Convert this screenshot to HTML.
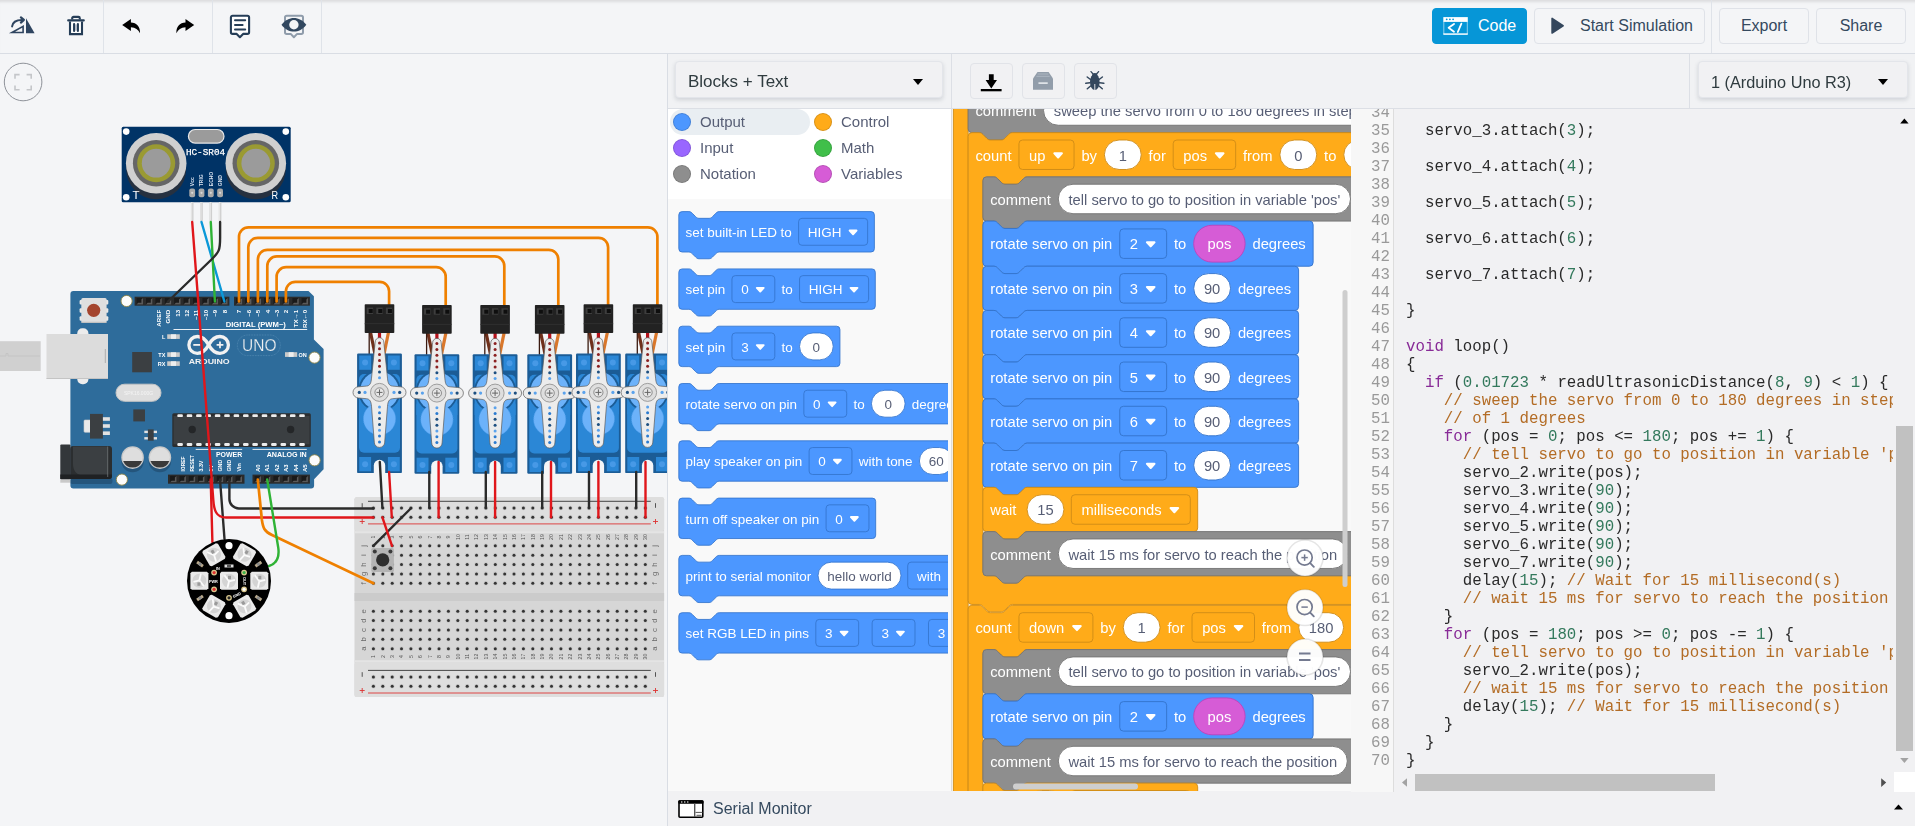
<!DOCTYPE html>
<html>
<head>
<meta charset="utf-8">
<title>Circuit design - Tinkercad</title>
<style>
*{box-sizing:border-box;margin:0;padding:0}
html,body{width:1915px;height:826px;overflow:hidden;background:#f4f5f7;font-family:"Liberation Sans",sans-serif;color:#34495e}
.abs{position:absolute}
#toolbar{position:absolute;left:0;top:0;width:1915px;height:54px;background:#f4f5f7;border-bottom:1px solid #d9dde4;box-shadow:inset 0 4px 3px -2px rgba(0,0,0,.10)}
.vdiv{position:absolute;top:0;width:1px;height:53px;background:#dfe3e9}
.tbtn{position:absolute;top:8px;height:36px;border:1px solid #dfe2e8;border-radius:4px;font-size:16px;line-height:34px;text-align:center;color:#34495e;background:#f4f5f7}
#canvas{will-change:transform;position:absolute;left:0;top:54px;width:667px;height:772px;background:#f4f5f7;overflow:hidden}
#panel{will-change:transform;position:absolute;left:667px;top:54px;width:1248px;height:772px;background:#f1f1f3;border-left:1px solid #d9dde4}
#phead{position:absolute;left:0;top:0;width:1247px;height:55px;border-bottom:1px solid #dcdfe5;background:#f1f2f4}
.dd{position:absolute;top:7px;height:37px;border:1px solid #e3e5ea;border-radius:4px;background:#f1f1f3;box-shadow:0 2px 4px rgba(60,70,90,.18);font-size:17px;line-height:40px;color:#2f3b3f;padding-left:12px}
.dd:after{content:"";position:absolute;right:19px;top:17px;border:5px solid transparent;border-top:6px solid #000;border-bottom:0}
.ibtn{position:absolute;top:9px;width:43px;height:36px;border:1px solid #e1e3e8;border-radius:4px;background:#f1f1f3}
#palette{position:absolute;left:0;top:55px;width:283px;height:682px;background:#f9f9f9;overflow:hidden}
#cats{position:absolute;left:0;top:0;width:283px;height:90px;background:#fff}
.cat{position:absolute;font-size:15px;color:#575e75;line-height:18px}
.cat i{position:absolute;left:0;top:0;width:18px;height:18px;border-radius:50%;border:1px solid rgba(0,0,0,.15)}
.cat span{position:absolute;left:27px;top:0;white-space:nowrap}
#ws{position:absolute;left:284px;top:55px;width:399px;height:682px;background:#f9f9f9;overflow:hidden}
#wsb{position:absolute;left:283px;top:55px;width:1px;height:682px;background:#ddd}
#editor{position:absolute;left:683px;top:55px;width:564px;height:683px;background:#f1f1f3;overflow:hidden}
#serial{position:absolute;left:0;top:738px;width:1247px;height:35px;background:#f1f1f3;border-top:1px solid #f1f1f3;font-size:16px;color:#34495e;line-height:32px}
.bsvg text{font-family:"Liberation Sans",sans-serif;font-size:16px}
#gut{position:absolute;left:0;top:0;width:43px;height:683px;background:#f7f7f7;border-right:1px solid #ddd}
.ln{position:absolute;left:0;width:542px;height:18px;overflow:hidden;font-family:"Liberation Mono",monospace;font-size:15.77px;line-height:18px;color:#2a2a2a;white-space:pre}
.ln s{position:absolute;left:0;width:39px;text-align:right;color:#999;text-decoration:none}
.ln pre{position:absolute;left:55px;top:0;font:inherit}
.ln b{font-weight:normal;color:#882b97}.ln i{font-style:normal;color:#33795c}.ln u{text-decoration:none;color:#b36c25}
</style>
</head>
<body>
<div id="toolbar">
  <div class="vdiv" style="left:103px"></div>
  <div class="vdiv" style="left:212px"></div>
  <div class="vdiv" style="left:321px"></div>
  <div class="vdiv" style="left:1711px"></div>
  <div class="tbtn" style="left:1432px;width:95px;background:#0696d7;border-color:#0696d7;color:#fff;text-align:left;padding-left:45px">Code</div>
  <div class="tbtn" style="left:1534px;width:171px;text-align:left;padding-left:45px">Start Simulation</div>
  <div class="tbtn" style="left:1719px;width:90px">Export</div>
  <div class="tbtn" style="left:1816px;width:90px">Share</div>
  <svg style="position:absolute;left:0;top:0" width="330" height="53" viewBox="0 0 330 53">
<g fill="none" stroke="#2f4560" stroke-linecap="round" stroke-linejoin="round">
<path d="M12.1 26.4C12.6 22.2 16 19.9 22 19.9" stroke-width="2"/>
<path d="M20.9 17.4L23.9 19.9L20.9 22.6" stroke-width="2.2"/>
<path d="M23.1 26.4V32.5H12Z" stroke-width="1.6" stroke-linejoin="miter" stroke-miterlimit="10"/>
</g>
<path d="M26 18.2V33.3H34.6Z" fill="#2f4560"/>
<rect x="70" y="21" width="12" height="13" fill="#fff"/>
<g fill="none" stroke="#253d57" stroke-width="2.1">
<path d="M68.2 20.4H83.8" stroke-linecap="round"/>
<path d="M72.2 19.6V18.3a1.4 1.4 0 0 1 1.4-1.4h4.8a1.4 1.4 0 0 1 1.4 1.4V19.6"/>
<path d="M70 21.5V34.1H82V21.5"/>
<path d="M74.1 24V31M77.9 24V31" stroke-linecap="round"/>
</g>
<path d="M75.1 24.5h1.8v6h-1.8z" fill="#aeb6c2"/>
<path d="M122.2 24.9L130.9 19V22.5C136.6 22.7 140.4 26.5 140 33.2C138.2 29.4 135.5 27.4 130.9 27.2V30.9Z" fill="#000"/>
<path d="M194.2 24.9L185.5 19V22.5C179.8 22.7 176 26.5 176.4 33.2C178.2 29.4 180.9 27.4 185.5 27.2V30.9Z" fill="#000"/>
<path d="M232.6 15.8h14.8a1.7 1.7 0 0 1 1.7 1.7v14.7a1.7 1.7 0 0 1-1.7 1.7h-4.3l-3.2 3.3l-3.2-3.3h-4.1a1.7 1.7 0 0 1-1.7-1.7V17.5a1.7 1.7 0 0 1 1.7-1.7z" fill="#fff" stroke="#253d57" stroke-width="2.1" stroke-linejoin="round"/>
<path d="M235 20.3h10.2M235 24.9h7.6M235 29.4h10.2" stroke="#253d57" stroke-width="2" stroke-linecap="round"/>
<path d="M286.7 15.8h14.6a1.7 1.7 0 0 1 1.7 1.7v14.7a1.7 1.7 0 0 1-1.7 1.7h-4.2l-3.2 3.3l-3.2-3.3h-4a1.7 1.7 0 0 1-1.7-1.7V17.5a1.7 1.7 0 0 1 1.7-1.7z" fill="none" stroke="#8f9cab" stroke-width="2" stroke-linejoin="round"/>
<path d="M281.5 24.7C285 20 289.5 17.9 293.9 17.9S302.8 20 306.3 24.7C302.8 29.4 298.3 31.5 293.9 31.5S285 29.4 281.5 24.7Z" fill="#31475f"/>
<circle cx="293.9" cy="24.7" r="4.7" fill="#f4f5f7"/>
</svg>
<svg style="position:absolute;left:1432px;top:8px" width="280" height="36" viewBox="1432 8 280 36">
<path d="M1443.3 17.1h24.5v4.8h-24.5z" fill="#fff"/>
<path d="M1443.8 21.5V34.1H1467.3V21.5" fill="none" stroke="#fff" stroke-opacity=".55" stroke-width="1"/>
<path d="M1443.3 34.1H1467.8" stroke="#fff" stroke-width="1.3"/>
<circle cx="1446.7" cy="19.3" r=".9" fill="#0696d7"/><circle cx="1449.9" cy="19.3" r=".9" fill="#0696d7"/><circle cx="1453.1" cy="19.3" r=".9" fill="#0696d7"/>
<path d="M1454 23.9L1448.6 27.8L1454 31.8M1461.4 23.6L1457.8 32" fill="none" stroke="#fff" stroke-width="1.8" stroke-linecap="round" stroke-linejoin="round"/>
<path d="M1551.3 18.4a.8.8 0 0 1 1.2-.7l11 7.3a.8.8 0 0 1 0 1.4l-11 7.3a.8.8 0 0 1-1.2-.7z" fill="#34475d"/>
</svg>

</div>
<div id="canvas">
<svg style="position:absolute;left:0;top:0" width="667" height="772" viewBox="0 54 667 772" font-family="Liberation Sans, sans-serif">
<circle cx="23.1" cy="82" r="18.8" fill="#f4f5f7" stroke="#8e9299" stroke-width="1"/>
<path d="M15 78.8V74.6H19.6M26.6 74.6H31.2V78.8M31.2 85.6V89.8H26.6M19.6 89.8H15V85.6" fill="none" stroke="#c4c6c9" stroke-width="1.6"/>
<defs>
<g id="ph"><rect x="-3.2" y="-3.2" width="6.4" height="6.4" fill="#1a1a1a"/><path d="M-3.2 3.2H3.2V-3.2L1.6 -1.6V1.6H-1.6Z" fill="#5a5a5a"/></g>
<g id="bh"><circle r="2.3" fill="#c8c8c8"/><circle r="1.5" fill="#333"/></g>
<g id="servo">
<path d="M-9 28L-4.5 50" stroke="#6e2f1a" stroke-width="3.2" fill="none"/>
<path d="M-10.3 28V50" stroke="#3a1a10" stroke-width="1.3" fill="none"/>
<path d="M0 28V48" stroke="#b5121b" stroke-width="3.2" fill="none"/>
<path d="M9 28L4.5 50" stroke="#d9772b" stroke-width="3.2" fill="none"/>
<rect x="-22.4" y="49.4" width="44.8" height="119.5" rx="1.2" fill="#1b5c96"/>
<rect x="-20.3" y="51.3" width="11.9" height="14.3" fill="#2b87d6"/>
<circle cx="-14.4" cy="58.3" r="3" fill="#4799e6"/>
<rect x="-20.3" y="152.8" width="11.9" height="14.3" fill="#2b87d6"/>
<circle cx="-14.4" cy="160" r="3" fill="#4799e6"/>
<rect x="8.4" y="51.3" width="11.9" height="14.3" fill="#2b87d6"/>
<circle cx="14.4" cy="58.3" r="3" fill="#4799e6"/>
<rect x="8.4" y="152.8" width="11.9" height="14.3" fill="#2b87d6"/>
<circle cx="14.4" cy="160" r="3" fill="#4799e6"/>
<rect x="-20.5" y="69.8" width="41" height="78.8" rx="5" fill="#2b87d6"/>
<circle cx="0" cy="86.6" r="21.2" fill="#1b5c96"/>
<rect x="-20.5" y="76" width="41" height="60" fill="none"/>
<circle cx="0" cy="86.6" r="19.3" fill="#6cb2fa"/>
<path d="M-20.5 98V110H20.5V98A21.2 21.2 0 0 1 -20.5 98Z" fill="#2b87d6"/>
<circle cx="0" cy="114.6" r="16.1" fill="#6cb2fa" stroke="#4f9fee" stroke-width=".8" stroke-dasharray="1 1"/>
<path d="M-5.7 169.5V161.3a5.7 5.7 0 0 1 11.4 0V169.5Z" fill="#f4f5f7"/>
<path d="M-4.3 37.8a4.3 4.3 0 0 1 8.6 0L8 74C8.4 79 9.5 81.5 13 81.9L20.9 82.6a5.6 5.6 0 0 1 0 11.2L13 94.5C9.5 94.9 8.4 97.4 8 102L5.2 138a5.2 5.2 0 0 1-10.4 0L-8 102C-8.4 97.4-9.5 94.9-13 94.5L-20.9 93.8a5.6 5.6 0 0 1 0-11.2L-13 81.9C-9.5 81.5-8.4 79-8 74Z" fill="#ececec" stroke="#5a5a5a" stroke-width=".7"/>
<circle cx="0" cy="88.2" r="9" fill="#dedede" stroke="#8a8a8a" stroke-width=".8"/>
<circle cx="0" cy="88.2" r="4.6" fill="#e6e6e6" stroke="#777" stroke-width=".8"/>
<path d="M-3 88.2H3M0 85.2V91.2" stroke="#666" stroke-width="1"/>
<circle cx="0" cy="38.7" r="1.5" fill="#8b2020"/>
<circle cx="0" cy="44.5" r="1.5" fill="#8b2020"/>
<circle cx="0" cy="50.3" r="1.5" fill="#8b2020"/>
<circle cx="0" cy="56.2" r="1.5" fill="#8b2020"/>
<circle cx="0" cy="62" r="1.5" fill="#8b2020"/>
<circle cx="0" cy="67.8" r="1.5" fill="#1d4f80"/>
<circle cx="0" cy="73.6" r="1.5" fill="#5aa2ec"/>
<circle cx="0" cy="102.8" r="1.5" fill="#5aa2ec"/>
<circle cx="0" cy="108.6" r="1.5" fill="#2b7bd0"/>
<circle cx="0" cy="114.4" r="1.5" fill="#1d4f80"/>
<circle cx="0" cy="120.3" r="1.5" fill="#1d4f80"/>
<circle cx="0" cy="126.1" r="1.5" fill="#5aa2ec"/>
<circle cx="0" cy="131.9" r="1.5" fill="#2b7bd0"/>
<circle cx="0" cy="137.7" r="1.5" fill="#2b7bd0"/>
<circle cx="-20.2" cy="88.2" r="1.6" fill="#1d4f80"/>
<circle cx="-14.5" cy="88.2" r="1.6" fill="#5aa2ec"/>
<circle cx="14.5" cy="88.2" r="1.6" fill="#5aa2ec"/>
<circle cx="20.2" cy="88.2" r="1.6" fill="#1d4f80"/>
<rect x="-14.8" y="0" width="29.6" height="28.8" rx=".8" fill="#222"/>
<path d="M-14.8 19.5H14.8" stroke="#333" stroke-width=".8"/>
<rect x="-12.8" y="3.4" width="6.4" height="6.4" fill="#3d3d3d"/><rect x="-10.8" y="4.8" width="4" height="4" fill="#0e0e0e"/>
<rect x="-3.2" y="3.4" width="6.4" height="6.4" fill="#3d3d3d"/><rect x="-1.2" y="4.8" width="4" height="4" fill="#0e0e0e"/>
<rect x="6.4" y="3.4" width="6.4" height="6.4" fill="#3d3d3d"/><rect x="8.4" y="4.8" width="4" height="4" fill="#0e0e0e"/>
</g>
<g id="npx"><path d="M-9 -7.5L-7.5 -9H7.5L9 -7.5V7.5L7.5 9H-7.5L-9 7.5Z" fill="#eaeaea"/><circle r="7" fill="#d4d4d4"/><path d="M0 0.5L-4.5 -5.5M0 .5L6 -1M0 .5L-1.5 7" stroke="#fbfbfb" stroke-width="1.8" fill="none"/><rect x="-1" y="-5" width="3" height="3.4" fill="#9a9a9a"/></g>
</defs>
<rect x="-2" y="341.2" width="42.7" height="29.8" fill="#d0d0d0"/>
<path d="M0 356H6V353.5H8V356H40" stroke="#c2c2c2" stroke-width=".8" fill="none"/>
<path d="M73.4 291H308.5L313.9 296.3V339.6L323.6 349V469.3L314.1 479.2V485.5a3 3 0 0 1-3 3H73.4a3 3 0 0 1-3-3V294a3 3 0 0 1 3-3Z" fill="#2e6c9b"/>
<circle cx="126.6" cy="301" r="5.6" fill="#fcfcfc" stroke="#8f8446" stroke-width=".9"/>
<circle cx="314.5" cy="357.6" r="5.6" fill="#fcfcfc" stroke="#8f8446" stroke-width=".9"/>
<circle cx="314.6" cy="460.3" r="5.6" fill="#fcfcfc" stroke="#8f8446" stroke-width=".9"/>
<circle cx="121.9" cy="479.6" r="5.6" fill="#fcfcfc" stroke="#8f8446" stroke-width=".9"/>
<rect x="79.6" y="300" width="28.7" height="4.5" rx="1" fill="#e9e9e9"/><rect x="79.6" y="308.2" width="28.7" height="4.5" rx="1" fill="#e9e9e9"/><rect x="79.6" y="316.3" width="28.7" height="4.5" rx="1" fill="#e9e9e9"/>
<rect x="81.3" y="298.1" width="25.3" height="24.9" rx="1.5" fill="#dfdfdf"/>
<path d="M81.3 322.3H106.6" stroke="#b9b9b9" stroke-width="1"/>
<circle cx="93.7" cy="310.3" r="6.6" fill="#a4442d"/>
<rect x="77.3" y="328.3" width="11.1" height="12" rx="5" fill="#ececec"/><rect x="77.3" y="372.3" width="11.1" height="12" rx="5" fill="#ececec"/>
<rect x="46.5" y="334" width="61.5" height="45" fill="#dcdcdc"/>
<path d="M46.5 378.5H108" stroke="#c4c4c4" stroke-width="1"/>
<path d="M105.3 349V363" stroke="#9a9a9a" stroke-width=".7"/>
<rect x="134.6" y="296.7" width="94.8" height="9" fill="#2b2b2b"/>
<use href="#ph" x="139.8" y="301.2"/>
<use href="#ph" x="149.2" y="301.2"/>
<use href="#ph" x="158.6" y="301.2"/>
<use href="#ph" x="168" y="301.2"/>
<use href="#ph" x="177.4" y="301.2"/>
<use href="#ph" x="186.8" y="301.2"/>
<use href="#ph" x="196.2" y="301.2"/>
<use href="#ph" x="205.6" y="301.2"/>
<use href="#ph" x="214.9" y="301.2"/>
<use href="#ph" x="224.4" y="301.2"/>
<rect x="234" y="296.7" width="75.9" height="9" fill="#2b2b2b"/>
<use href="#ph" x="239" y="301.2"/>
<use href="#ph" x="248.3" y="301.2"/>
<use href="#ph" x="257.9" y="301.2"/>
<use href="#ph" x="267.3" y="301.2"/>
<use href="#ph" x="276.6" y="301.2"/>
<use href="#ph" x="285.9" y="301.2"/>
<use href="#ph" x="295.6" y="301.2"/>
<use href="#ph" x="304.8" y="301.2"/>
<rect x="168" y="474.6" width="76.5" height="9.1" fill="#2b2b2b"/>
<use href="#ph" x="173.3" y="479.1"/>
<use href="#ph" x="182.7" y="479.1"/>
<use href="#ph" x="192" y="479.1"/>
<use href="#ph" x="201.3" y="479.1"/>
<use href="#ph" x="210.7" y="479.1"/>
<use href="#ph" x="220" y="479.1"/>
<use href="#ph" x="229.4" y="479.1"/>
<use href="#ph" x="238.8" y="479.1"/>
<rect x="252.5" y="474.6" width="57.4" height="9.1" fill="#2b2b2b"/>
<use href="#ph" x="257.8" y="479.1"/>
<use href="#ph" x="267.2" y="479.1"/>
<use href="#ph" x="276.6" y="479.1"/>
<use href="#ph" x="286" y="479.1"/>
<use href="#ph" x="295.3" y="479.1"/>
<use href="#ph" x="304.7" y="479.1"/>
<text transform="translate(160.8 309.8) rotate(-90)" font-size="6.2" font-weight="bold" text-anchor="end" fill="#fff">AREF</text>
<text transform="translate(170.2 309.8) rotate(-90)" font-size="6.2" font-weight="bold" text-anchor="end" fill="#fff">GND</text>
<text transform="translate(179.6 309.8) rotate(-90)" font-size="6.2" font-weight="bold" text-anchor="end" fill="#fff">13</text>
<text transform="translate(189 309.8) rotate(-90)" font-size="6.2" font-weight="bold" text-anchor="end" fill="#fff">12</text>
<text transform="translate(198.4 309.8) rotate(-90)" font-size="6.2" font-weight="bold" text-anchor="end" fill="#fff">~11</text>
<text transform="translate(207.8 309.8) rotate(-90)" font-size="6.2" font-weight="bold" text-anchor="end" fill="#fff">~10</text>
<text transform="translate(217.1 309.8) rotate(-90)" font-size="6.2" font-weight="bold" text-anchor="end" fill="#fff">~9</text>
<text transform="translate(226.6 309.8) rotate(-90)" font-size="6.2" font-weight="bold" text-anchor="end" fill="#fff">8</text>
<text transform="translate(241.2 309.8) rotate(-90)" font-size="6.2" font-weight="bold" text-anchor="end" fill="#fff">7</text>
<text transform="translate(250.5 309.8) rotate(-90)" font-size="6.2" font-weight="bold" text-anchor="end" fill="#fff">~6</text>
<text transform="translate(260.1 309.8) rotate(-90)" font-size="6.2" font-weight="bold" text-anchor="end" fill="#fff">~5</text>
<text transform="translate(269.5 309.8) rotate(-90)" font-size="6.2" font-weight="bold" text-anchor="end" fill="#fff">4</text>
<text transform="translate(278.8 309.8) rotate(-90)" font-size="6.2" font-weight="bold" text-anchor="end" fill="#fff">~3</text>
<text transform="translate(288.1 309.8) rotate(-90)" font-size="6.2" font-weight="bold" text-anchor="end" fill="#fff">2</text>
<text transform="translate(297.8 309.8) rotate(-90)" font-size="6.2" font-weight="bold" text-anchor="end" fill="#fff">TX→1</text>
<text transform="translate(307 309.8) rotate(-90)" font-size="6.2" font-weight="bold" text-anchor="end" fill="#fff">RX←0</text>
<text x="225.7" y="326.7" font-size="7.4" font-weight="bold" fill="#fff" textLength="60.2" lengthAdjust="spacingAndGlyphs">DIGITAL (PWM~)</text>
<path d="M173.5 329.5H307.2" stroke="#fff" stroke-width=".9"/>
<rect x="167.2" y="334.3" width="12.6" height="4.6" fill="#c9c9c9"/><rect x="171" y="334.3" width="5" height="4.6" fill="#eee"/>
<rect x="167.2" y="352.3" width="12.6" height="4.6" fill="#c9c9c9"/><rect x="171" y="352.3" width="5" height="4.6" fill="#eee"/>
<rect x="167.2" y="361.3" width="12.6" height="4.6" fill="#c9c9c9"/><rect x="171" y="361.3" width="5" height="4.6" fill="#eee"/>
<rect x="285" y="352.2" width="12.2" height="4.7" fill="#c9c9c9"/><rect x="288.7" y="352.2" width="4.9" height="4.7" fill="#eee"/>
<text x="165.3" y="339.3" font-size="5.5" font-weight="bold" fill="#fff" text-anchor="end">L</text>
<text x="165.3" y="357.3" font-size="5.5" font-weight="bold" fill="#fff" text-anchor="end">TX</text>
<text x="165.3" y="366.3" font-size="5.5" font-weight="bold" fill="#fff" text-anchor="end">RX</text>
<text x="298.6" y="356.8" font-size="5.5" font-weight="bold" fill="#fff">ON</text>
<rect x="132.2" y="352" width="19.7" height="20.3" fill="#3b3f42"/>
<g fill="none" stroke="#f2f2f2" stroke-width="3.3"><path d="M208.65 344.9C205.5 339 201.5 336.5 197.3 336.5a8.4 8.4 0 0 0 0 16.8C201.5 353.3 205.5 350.8 208.65 344.9C211.8 339 215.8 336.5 220 336.5a8.4 8.4 0 0 1 0 16.8C215.8 353.3 211.8 350.8 208.65 344.9Z"/></g>
<path d="M193.3 344.9H200.3" stroke="#f2f2f2" stroke-width="1.8"/><path d="M216.6 344.9H223.4M220 341.5V348.3" stroke="#f2f2f2" stroke-width="1.7"/>
<text x="188.7" y="363.6" font-size="7.3" font-weight="bold" fill="#f2f2f2" textLength="41" lengthAdjust="spacingAndGlyphs">ARDUINO</text>
<rect x="237.3" y="335" width="43" height="20.6" rx="10.3" fill="none" stroke="#5f93ba" stroke-width=".7" stroke-dasharray=".8 .8"/>
<text x="242" y="351.3" font-size="17" fill="#f2f2f2" textLength="34.5" lengthAdjust="spacingAndGlyphs" stroke="#2e6c9b" stroke-width=".25">UNO</text>
<rect x="116" y="384.2" width="45" height="17.1" rx="8.5" fill="#dedede" stroke="#c6c6c6" stroke-width="1"/>
<text x="138.5" y="395" font-size="5" fill="#f4f4f4" text-anchor="middle">SPK16&#46;000G</text>
<rect x="133.3" y="409.4" width="11.7" height="12" fill="#3b3f42"/>
<rect x="84" y="420" width="7" height="12.3" rx="1" fill="#eaeaea" stroke="#cfcfcf" stroke-width=".6"/>
<rect x="90" y="413.9" width="12.9" height="24.7" fill="#3b3f42"/>
<rect x="102.9" y="417.2" width="7" height="3.6" fill="#e2e2e2"/>
<rect x="102.9" y="424.2" width="7" height="3.6" fill="#e2e2e2"/>
<rect x="102.9" y="431.4" width="7" height="3.6" fill="#e2e2e2"/>
<rect x="144.3" y="430.7" width="12.7" height="2.4" fill="#e2e2e2"/>
<rect x="144.3" y="437.1" width="12.7" height="2.4" fill="#e2e2e2"/>
<rect x="147.9" y="429.4" width="5.8" height="11.3" fill="#3b3f42"/>
<rect x="172.3" y="413.3" width="138.5" height="33.6" rx="1.5" fill="#2c2e30"/>
<rect x="173.6" y="416" width="135.9" height="28.3" fill="#3b3f42"/>
<rect x="177.3" y="414.3" width="5.6" height="2.8" rx="1.2" fill="#ededed"/><rect x="177.3" y="443.1" width="5.6" height="2.8" rx="1.2" fill="#ededed"/>
<rect x="186.7" y="414.3" width="5.6" height="2.8" rx="1.2" fill="#ededed"/><rect x="186.7" y="443.1" width="5.6" height="2.8" rx="1.2" fill="#ededed"/>
<rect x="196.1" y="414.3" width="5.6" height="2.8" rx="1.2" fill="#ededed"/><rect x="196.1" y="443.1" width="5.6" height="2.8" rx="1.2" fill="#ededed"/>
<rect x="205.4" y="414.3" width="5.6" height="2.8" rx="1.2" fill="#ededed"/><rect x="205.4" y="443.1" width="5.6" height="2.8" rx="1.2" fill="#ededed"/>
<rect x="214.8" y="414.3" width="5.6" height="2.8" rx="1.2" fill="#ededed"/><rect x="214.8" y="443.1" width="5.6" height="2.8" rx="1.2" fill="#ededed"/>
<rect x="224.2" y="414.3" width="5.6" height="2.8" rx="1.2" fill="#ededed"/><rect x="224.2" y="443.1" width="5.6" height="2.8" rx="1.2" fill="#ededed"/>
<rect x="233.6" y="414.3" width="5.6" height="2.8" rx="1.2" fill="#ededed"/><rect x="233.6" y="443.1" width="5.6" height="2.8" rx="1.2" fill="#ededed"/>
<rect x="243" y="414.3" width="5.6" height="2.8" rx="1.2" fill="#ededed"/><rect x="243" y="443.1" width="5.6" height="2.8" rx="1.2" fill="#ededed"/>
<rect x="252.3" y="414.3" width="5.6" height="2.8" rx="1.2" fill="#ededed"/><rect x="252.3" y="443.1" width="5.6" height="2.8" rx="1.2" fill="#ededed"/>
<rect x="261.7" y="414.3" width="5.6" height="2.8" rx="1.2" fill="#ededed"/><rect x="261.7" y="443.1" width="5.6" height="2.8" rx="1.2" fill="#ededed"/>
<rect x="271.1" y="414.3" width="5.6" height="2.8" rx="1.2" fill="#ededed"/><rect x="271.1" y="443.1" width="5.6" height="2.8" rx="1.2" fill="#ededed"/>
<rect x="280.5" y="414.3" width="5.6" height="2.8" rx="1.2" fill="#ededed"/><rect x="280.5" y="443.1" width="5.6" height="2.8" rx="1.2" fill="#ededed"/>
<rect x="289.9" y="414.3" width="5.6" height="2.8" rx="1.2" fill="#ededed"/><rect x="289.9" y="443.1" width="5.6" height="2.8" rx="1.2" fill="#ededed"/>
<rect x="299.2" y="414.3" width="5.6" height="2.8" rx="1.2" fill="#ededed"/><rect x="299.2" y="443.1" width="5.6" height="2.8" rx="1.2" fill="#ededed"/>
<circle cx="192.2" cy="429.5" r="3.7" fill="#242628"/><circle cx="290.6" cy="429.5" r="3.7" fill="#242628"/>
<rect x="70.4" y="478" width="42" height="6" rx="2" fill="#24557c"/>
<rect x="60.3" y="479" width="10" height="3.7" fill="#c9c9c9"/>
<rect x="60.3" y="444.6" width="10.2" height="34.6" rx="1" fill="#33373a"/>
<rect x="70.2" y="446" width="41.8" height="33" rx="3" fill="#2b2e30"/>
<path d="M73 446.5H107.5V475.5H84C77 475.5 73 471 73 464Z" fill="#3b3f42"/>
<path d="M60.3 474.5H112V476a3 3 0 0 1-3 3H60.3Z" fill="#1f2123"/>
<path d="M107.7 446.5V477" stroke="#8a8d8f" stroke-width=".6"/>
<circle cx="132.6" cy="461" r="11.3" fill="#24557c"/>
<circle cx="132.6" cy="457.6" r="11.3" fill="#c9c9c9"/>
<circle cx="132.6" cy="457.6" r="10" fill="#dedede"/>
<path d="M123.2 461a10 10 0 0 0 18.8 0Z" fill="#3a3a3a"/>
<circle cx="159.9" cy="461" r="11.3" fill="#24557c"/>
<circle cx="159.9" cy="457.6" r="11.3" fill="#c9c9c9"/>
<circle cx="159.9" cy="457.6" r="10" fill="#dedede"/>
<path d="M150.5 461a10 10 0 0 0 18.8 0Z" fill="#3a3a3a"/>
<path d="M195.7 449.4H242.2M252.5 449.4H306.8" stroke="#fff" stroke-width=".9"/>
<text x="242.2" y="457.3" font-size="7.3" font-weight="bold" fill="#fff" text-anchor="end" textLength="26.2" lengthAdjust="spacingAndGlyphs">POWER</text>
<text x="306.8" y="457.3" font-size="7.3" font-weight="bold" fill="#fff" text-anchor="end" textLength="40.1" lengthAdjust="spacingAndGlyphs">ANALOG IN</text>
<text transform="translate(184.6 471.5) rotate(-90)" font-size="4.9" font-weight="bold" text-anchor="start" fill="#fff">IOREF</text>
<text transform="translate(193.9 471.5) rotate(-90)" font-size="4.9" font-weight="bold" text-anchor="start" fill="#fff">RESET</text>
<text transform="translate(203.2 471.5) rotate(-90)" font-size="5.3" font-weight="bold" text-anchor="start" fill="#fff">3.3V</text>
<text transform="translate(212.6 471.5) rotate(-90)" font-size="5.3" font-weight="bold" text-anchor="start" fill="#fff">5V</text>
<text transform="translate(221.9 471.5) rotate(-90)" font-size="5.3" font-weight="bold" text-anchor="start" fill="#fff">GND</text>
<text transform="translate(231.3 471.5) rotate(-90)" font-size="5.3" font-weight="bold" text-anchor="start" fill="#fff">GND</text>
<text transform="translate(240.7 471.5) rotate(-90)" font-size="5.3" font-weight="bold" text-anchor="start" fill="#fff">Vin</text>
<text transform="translate(260 472) rotate(-90)" font-size="6" font-weight="bold" text-anchor="start" fill="#fff">A0</text>
<text transform="translate(269.4 472) rotate(-90)" font-size="6" font-weight="bold" text-anchor="start" fill="#fff">A1</text>
<text transform="translate(278.8 472) rotate(-90)" font-size="6" font-weight="bold" text-anchor="start" fill="#fff">A2</text>
<text transform="translate(288.2 472) rotate(-90)" font-size="6" font-weight="bold" text-anchor="start" fill="#fff">A3</text>
<text transform="translate(297.5 472) rotate(-90)" font-size="6" font-weight="bold" text-anchor="start" fill="#fff">A4</text>
<text transform="translate(306.9 472) rotate(-90)" font-size="6" font-weight="bold" text-anchor="start" fill="#fff">A5</text>
<rect x="121.7" y="126.7" width="169" height="75.5" rx="1.5" fill="#003366"/>
<circle cx="126.2" cy="131.6" r="3.3" fill="#fff"/>
<circle cx="285.8" cy="131.6" r="3.3" fill="#fff"/>
<circle cx="126.2" cy="197.2" r="3.3" fill="#fff"/>
<circle cx="285.8" cy="197.2" r="3.3" fill="#fff"/>
<circle cx="156.2" cy="169.3" r="30" fill="#263140"/>
<circle cx="156.2" cy="163.2" r="30.3" fill="#d0d0d0"/>
<circle cx="156.2" cy="163.2" r="23.3" fill="#666"/>
<circle cx="156.2" cy="163.2" r="19" fill="#9a9a32"/>
<circle cx="156.2" cy="163.2" r="14.4" fill="#9b9b9b"/>
<circle cx="255.8" cy="169.3" r="30" fill="#263140"/>
<circle cx="255.8" cy="163.2" r="30.3" fill="#d0d0d0"/>
<circle cx="255.8" cy="163.2" r="23.3" fill="#666"/>
<circle cx="255.8" cy="163.2" r="19" fill="#9a9a32"/>
<circle cx="255.8" cy="163.2" r="14.4" fill="#9b9b9b"/>
<rect x="188.4" y="129.5" width="35.6" height="13.6" rx="6.8" fill="#9b9b9b" stroke="#e8e8e8" stroke-width="1.2"/>
<text x="185.9" y="154.7" font-family="Liberation Mono, monospace" font-size="9.3" fill="#fff" stroke="#fff" stroke-width=".25" textLength="39.3" lengthAdjust="spacingAndGlyphs">HC-SR04</text>
<text x="132.6" y="198.9" font-size="11.5" fill="#fff" textLength="6">T</text><text x="271.6" y="198.9" font-size="11.5" fill="#fff" textLength="6.6" lengthAdjust="spacingAndGlyphs">R</text>
<rect x="189.3" y="188.5" width="5.8" height="8.7" rx="2" fill="#a9a9a9"/><circle cx="192.2" cy="192.8" r="1.1" fill="#d8d8d8"/>
<text transform="translate(194 186.2) rotate(-90)" font-size="5" font-weight="bold" fill="#d9e2ee">Vcc</text>
<path d="M192.2 202.2V221" stroke="#cfcfcf" stroke-width="2.6"/><path d="M191.7 202.2V221" stroke="#ececec" stroke-width=".9"/>
<rect x="198.6" y="188.5" width="5.8" height="8.7" rx="2" fill="#a9a9a9"/><circle cx="201.5" cy="192.8" r="1.1" fill="#d8d8d8"/>
<text transform="translate(203.3 186.2) rotate(-90)" font-size="5" font-weight="bold" fill="#d9e2ee">TRIG</text>
<path d="M201.5 202.2V221" stroke="#cfcfcf" stroke-width="2.6"/><path d="M201 202.2V221" stroke="#ececec" stroke-width=".9"/>
<rect x="207.9" y="188.5" width="5.8" height="8.7" rx="2" fill="#a9a9a9"/><circle cx="210.8" cy="192.8" r="1.1" fill="#d8d8d8"/>
<text transform="translate(212.6 186.2) rotate(-90)" font-size="5" font-weight="bold" fill="#d9e2ee">ECHO</text>
<path d="M210.8 202.2V221" stroke="#cfcfcf" stroke-width="2.6"/><path d="M210.3 202.2V221" stroke="#ececec" stroke-width=".9"/>
<rect x="217.2" y="188.5" width="5.8" height="8.7" rx="2" fill="#a9a9a9"/><circle cx="220.1" cy="192.8" r="1.1" fill="#d8d8d8"/>
<text transform="translate(221.9 186.2) rotate(-90)" font-size="5" font-weight="bold" fill="#d9e2ee">GND</text>
<path d="M220.1 202.2V221" stroke="#cfcfcf" stroke-width="2.6"/><path d="M219.6 202.2V221" stroke="#ececec" stroke-width=".9"/>
<rect x="354.5" y="497.3" width="309.6" height="199.7" rx="2" fill="#d6d6d6"/>
<rect x="354.5" y="497.3" width="309.6" height="33.8" rx="2" fill="#dedede"/>
<rect x="354.5" y="662.4" width="309.6" height="34.6" rx="2" fill="#dedede"/>
<rect x="354.5" y="531.1" width="309.6" height="2.2" fill="#e4e4e4"/><rect x="354.5" y="660.2" width="309.6" height="2.2" fill="#e4e4e4"/>
<rect x="354.5" y="593" width="309.6" height="8" fill="#cbcbcb"/>
<path d="M368 501.3H650.8M368 670.4H650.8" stroke="#333" stroke-width=".9"/>
<path d="M368 523.9H650.8M368 693H650.8" stroke="#d33" stroke-width=".9"/>
<use href="#bh" x="373.4" y="508"/>
<use href="#bh" x="382.8" y="508"/>
<use href="#bh" x="392.2" y="508"/>
<use href="#bh" x="401.5" y="508"/>
<use href="#bh" x="410.9" y="508"/>
<use href="#bh" x="420.3" y="508"/>
<use href="#bh" x="429.7" y="508"/>
<use href="#bh" x="439" y="508"/>
<use href="#bh" x="448.4" y="508"/>
<use href="#bh" x="457.8" y="508"/>
<use href="#bh" x="467.2" y="508"/>
<use href="#bh" x="476.5" y="508"/>
<use href="#bh" x="485.9" y="508"/>
<use href="#bh" x="495.3" y="508"/>
<use href="#bh" x="504.7" y="508"/>
<use href="#bh" x="514" y="508"/>
<use href="#bh" x="523.4" y="508"/>
<use href="#bh" x="532.8" y="508"/>
<use href="#bh" x="542.2" y="508"/>
<use href="#bh" x="551.5" y="508"/>
<use href="#bh" x="560.9" y="508"/>
<use href="#bh" x="570.3" y="508"/>
<use href="#bh" x="579.7" y="508"/>
<use href="#bh" x="589" y="508"/>
<use href="#bh" x="598.4" y="508"/>
<use href="#bh" x="607.8" y="508"/>
<use href="#bh" x="617.2" y="508"/>
<use href="#bh" x="626.6" y="508"/>
<use href="#bh" x="635.9" y="508"/>
<use href="#bh" x="645.3" y="508"/>
<use href="#bh" x="373.4" y="517.3"/>
<use href="#bh" x="382.8" y="517.3"/>
<use href="#bh" x="392.2" y="517.3"/>
<use href="#bh" x="401.5" y="517.3"/>
<use href="#bh" x="410.9" y="517.3"/>
<use href="#bh" x="420.3" y="517.3"/>
<use href="#bh" x="429.7" y="517.3"/>
<use href="#bh" x="439" y="517.3"/>
<use href="#bh" x="448.4" y="517.3"/>
<use href="#bh" x="457.8" y="517.3"/>
<use href="#bh" x="467.2" y="517.3"/>
<use href="#bh" x="476.5" y="517.3"/>
<use href="#bh" x="485.9" y="517.3"/>
<use href="#bh" x="495.3" y="517.3"/>
<use href="#bh" x="504.7" y="517.3"/>
<use href="#bh" x="514" y="517.3"/>
<use href="#bh" x="523.4" y="517.3"/>
<use href="#bh" x="532.8" y="517.3"/>
<use href="#bh" x="542.2" y="517.3"/>
<use href="#bh" x="551.5" y="517.3"/>
<use href="#bh" x="560.9" y="517.3"/>
<use href="#bh" x="570.3" y="517.3"/>
<use href="#bh" x="579.7" y="517.3"/>
<use href="#bh" x="589" y="517.3"/>
<use href="#bh" x="598.4" y="517.3"/>
<use href="#bh" x="607.8" y="517.3"/>
<use href="#bh" x="617.2" y="517.3"/>
<use href="#bh" x="626.6" y="517.3"/>
<use href="#bh" x="635.9" y="517.3"/>
<use href="#bh" x="645.3" y="517.3"/>
<use href="#bh" x="373.4" y="545.8"/>
<use href="#bh" x="382.8" y="545.8"/>
<use href="#bh" x="392.2" y="545.8"/>
<use href="#bh" x="401.5" y="545.8"/>
<use href="#bh" x="410.9" y="545.8"/>
<use href="#bh" x="420.3" y="545.8"/>
<use href="#bh" x="429.7" y="545.8"/>
<use href="#bh" x="439" y="545.8"/>
<use href="#bh" x="448.4" y="545.8"/>
<use href="#bh" x="457.8" y="545.8"/>
<use href="#bh" x="467.2" y="545.8"/>
<use href="#bh" x="476.5" y="545.8"/>
<use href="#bh" x="485.9" y="545.8"/>
<use href="#bh" x="495.3" y="545.8"/>
<use href="#bh" x="504.7" y="545.8"/>
<use href="#bh" x="514" y="545.8"/>
<use href="#bh" x="523.4" y="545.8"/>
<use href="#bh" x="532.8" y="545.8"/>
<use href="#bh" x="542.2" y="545.8"/>
<use href="#bh" x="551.5" y="545.8"/>
<use href="#bh" x="560.9" y="545.8"/>
<use href="#bh" x="570.3" y="545.8"/>
<use href="#bh" x="579.7" y="545.8"/>
<use href="#bh" x="589" y="545.8"/>
<use href="#bh" x="598.4" y="545.8"/>
<use href="#bh" x="607.8" y="545.8"/>
<use href="#bh" x="617.2" y="545.8"/>
<use href="#bh" x="626.6" y="545.8"/>
<use href="#bh" x="635.9" y="545.8"/>
<use href="#bh" x="645.3" y="545.8"/>
<use href="#bh" x="373.4" y="555.2"/>
<use href="#bh" x="382.8" y="555.2"/>
<use href="#bh" x="392.2" y="555.2"/>
<use href="#bh" x="401.5" y="555.2"/>
<use href="#bh" x="410.9" y="555.2"/>
<use href="#bh" x="420.3" y="555.2"/>
<use href="#bh" x="429.7" y="555.2"/>
<use href="#bh" x="439" y="555.2"/>
<use href="#bh" x="448.4" y="555.2"/>
<use href="#bh" x="457.8" y="555.2"/>
<use href="#bh" x="467.2" y="555.2"/>
<use href="#bh" x="476.5" y="555.2"/>
<use href="#bh" x="485.9" y="555.2"/>
<use href="#bh" x="495.3" y="555.2"/>
<use href="#bh" x="504.7" y="555.2"/>
<use href="#bh" x="514" y="555.2"/>
<use href="#bh" x="523.4" y="555.2"/>
<use href="#bh" x="532.8" y="555.2"/>
<use href="#bh" x="542.2" y="555.2"/>
<use href="#bh" x="551.5" y="555.2"/>
<use href="#bh" x="560.9" y="555.2"/>
<use href="#bh" x="570.3" y="555.2"/>
<use href="#bh" x="579.7" y="555.2"/>
<use href="#bh" x="589" y="555.2"/>
<use href="#bh" x="598.4" y="555.2"/>
<use href="#bh" x="607.8" y="555.2"/>
<use href="#bh" x="617.2" y="555.2"/>
<use href="#bh" x="626.6" y="555.2"/>
<use href="#bh" x="635.9" y="555.2"/>
<use href="#bh" x="645.3" y="555.2"/>
<use href="#bh" x="373.4" y="564.5"/>
<use href="#bh" x="382.8" y="564.5"/>
<use href="#bh" x="392.2" y="564.5"/>
<use href="#bh" x="401.5" y="564.5"/>
<use href="#bh" x="410.9" y="564.5"/>
<use href="#bh" x="420.3" y="564.5"/>
<use href="#bh" x="429.7" y="564.5"/>
<use href="#bh" x="439" y="564.5"/>
<use href="#bh" x="448.4" y="564.5"/>
<use href="#bh" x="457.8" y="564.5"/>
<use href="#bh" x="467.2" y="564.5"/>
<use href="#bh" x="476.5" y="564.5"/>
<use href="#bh" x="485.9" y="564.5"/>
<use href="#bh" x="495.3" y="564.5"/>
<use href="#bh" x="504.7" y="564.5"/>
<use href="#bh" x="514" y="564.5"/>
<use href="#bh" x="523.4" y="564.5"/>
<use href="#bh" x="532.8" y="564.5"/>
<use href="#bh" x="542.2" y="564.5"/>
<use href="#bh" x="551.5" y="564.5"/>
<use href="#bh" x="560.9" y="564.5"/>
<use href="#bh" x="570.3" y="564.5"/>
<use href="#bh" x="579.7" y="564.5"/>
<use href="#bh" x="589" y="564.5"/>
<use href="#bh" x="598.4" y="564.5"/>
<use href="#bh" x="607.8" y="564.5"/>
<use href="#bh" x="617.2" y="564.5"/>
<use href="#bh" x="626.6" y="564.5"/>
<use href="#bh" x="635.9" y="564.5"/>
<use href="#bh" x="645.3" y="564.5"/>
<use href="#bh" x="373.4" y="573.9"/>
<use href="#bh" x="382.8" y="573.9"/>
<use href="#bh" x="392.2" y="573.9"/>
<use href="#bh" x="401.5" y="573.9"/>
<use href="#bh" x="410.9" y="573.9"/>
<use href="#bh" x="420.3" y="573.9"/>
<use href="#bh" x="429.7" y="573.9"/>
<use href="#bh" x="439" y="573.9"/>
<use href="#bh" x="448.4" y="573.9"/>
<use href="#bh" x="457.8" y="573.9"/>
<use href="#bh" x="467.2" y="573.9"/>
<use href="#bh" x="476.5" y="573.9"/>
<use href="#bh" x="485.9" y="573.9"/>
<use href="#bh" x="495.3" y="573.9"/>
<use href="#bh" x="504.7" y="573.9"/>
<use href="#bh" x="514" y="573.9"/>
<use href="#bh" x="523.4" y="573.9"/>
<use href="#bh" x="532.8" y="573.9"/>
<use href="#bh" x="542.2" y="573.9"/>
<use href="#bh" x="551.5" y="573.9"/>
<use href="#bh" x="560.9" y="573.9"/>
<use href="#bh" x="570.3" y="573.9"/>
<use href="#bh" x="579.7" y="573.9"/>
<use href="#bh" x="589" y="573.9"/>
<use href="#bh" x="598.4" y="573.9"/>
<use href="#bh" x="607.8" y="573.9"/>
<use href="#bh" x="617.2" y="573.9"/>
<use href="#bh" x="626.6" y="573.9"/>
<use href="#bh" x="635.9" y="573.9"/>
<use href="#bh" x="645.3" y="573.9"/>
<use href="#bh" x="373.4" y="583.3"/>
<use href="#bh" x="382.8" y="583.3"/>
<use href="#bh" x="392.2" y="583.3"/>
<use href="#bh" x="401.5" y="583.3"/>
<use href="#bh" x="410.9" y="583.3"/>
<use href="#bh" x="420.3" y="583.3"/>
<use href="#bh" x="429.7" y="583.3"/>
<use href="#bh" x="439" y="583.3"/>
<use href="#bh" x="448.4" y="583.3"/>
<use href="#bh" x="457.8" y="583.3"/>
<use href="#bh" x="467.2" y="583.3"/>
<use href="#bh" x="476.5" y="583.3"/>
<use href="#bh" x="485.9" y="583.3"/>
<use href="#bh" x="495.3" y="583.3"/>
<use href="#bh" x="504.7" y="583.3"/>
<use href="#bh" x="514" y="583.3"/>
<use href="#bh" x="523.4" y="583.3"/>
<use href="#bh" x="532.8" y="583.3"/>
<use href="#bh" x="542.2" y="583.3"/>
<use href="#bh" x="551.5" y="583.3"/>
<use href="#bh" x="560.9" y="583.3"/>
<use href="#bh" x="570.3" y="583.3"/>
<use href="#bh" x="579.7" y="583.3"/>
<use href="#bh" x="589" y="583.3"/>
<use href="#bh" x="598.4" y="583.3"/>
<use href="#bh" x="607.8" y="583.3"/>
<use href="#bh" x="617.2" y="583.3"/>
<use href="#bh" x="626.6" y="583.3"/>
<use href="#bh" x="635.9" y="583.3"/>
<use href="#bh" x="645.3" y="583.3"/>
<use href="#bh" x="373.4" y="611.3"/>
<use href="#bh" x="382.8" y="611.3"/>
<use href="#bh" x="392.2" y="611.3"/>
<use href="#bh" x="401.5" y="611.3"/>
<use href="#bh" x="410.9" y="611.3"/>
<use href="#bh" x="420.3" y="611.3"/>
<use href="#bh" x="429.7" y="611.3"/>
<use href="#bh" x="439" y="611.3"/>
<use href="#bh" x="448.4" y="611.3"/>
<use href="#bh" x="457.8" y="611.3"/>
<use href="#bh" x="467.2" y="611.3"/>
<use href="#bh" x="476.5" y="611.3"/>
<use href="#bh" x="485.9" y="611.3"/>
<use href="#bh" x="495.3" y="611.3"/>
<use href="#bh" x="504.7" y="611.3"/>
<use href="#bh" x="514" y="611.3"/>
<use href="#bh" x="523.4" y="611.3"/>
<use href="#bh" x="532.8" y="611.3"/>
<use href="#bh" x="542.2" y="611.3"/>
<use href="#bh" x="551.5" y="611.3"/>
<use href="#bh" x="560.9" y="611.3"/>
<use href="#bh" x="570.3" y="611.3"/>
<use href="#bh" x="579.7" y="611.3"/>
<use href="#bh" x="589" y="611.3"/>
<use href="#bh" x="598.4" y="611.3"/>
<use href="#bh" x="607.8" y="611.3"/>
<use href="#bh" x="617.2" y="611.3"/>
<use href="#bh" x="626.6" y="611.3"/>
<use href="#bh" x="635.9" y="611.3"/>
<use href="#bh" x="645.3" y="611.3"/>
<use href="#bh" x="373.4" y="620.6"/>
<use href="#bh" x="382.8" y="620.6"/>
<use href="#bh" x="392.2" y="620.6"/>
<use href="#bh" x="401.5" y="620.6"/>
<use href="#bh" x="410.9" y="620.6"/>
<use href="#bh" x="420.3" y="620.6"/>
<use href="#bh" x="429.7" y="620.6"/>
<use href="#bh" x="439" y="620.6"/>
<use href="#bh" x="448.4" y="620.6"/>
<use href="#bh" x="457.8" y="620.6"/>
<use href="#bh" x="467.2" y="620.6"/>
<use href="#bh" x="476.5" y="620.6"/>
<use href="#bh" x="485.9" y="620.6"/>
<use href="#bh" x="495.3" y="620.6"/>
<use href="#bh" x="504.7" y="620.6"/>
<use href="#bh" x="514" y="620.6"/>
<use href="#bh" x="523.4" y="620.6"/>
<use href="#bh" x="532.8" y="620.6"/>
<use href="#bh" x="542.2" y="620.6"/>
<use href="#bh" x="551.5" y="620.6"/>
<use href="#bh" x="560.9" y="620.6"/>
<use href="#bh" x="570.3" y="620.6"/>
<use href="#bh" x="579.7" y="620.6"/>
<use href="#bh" x="589" y="620.6"/>
<use href="#bh" x="598.4" y="620.6"/>
<use href="#bh" x="607.8" y="620.6"/>
<use href="#bh" x="617.2" y="620.6"/>
<use href="#bh" x="626.6" y="620.6"/>
<use href="#bh" x="635.9" y="620.6"/>
<use href="#bh" x="645.3" y="620.6"/>
<use href="#bh" x="373.4" y="630"/>
<use href="#bh" x="382.8" y="630"/>
<use href="#bh" x="392.2" y="630"/>
<use href="#bh" x="401.5" y="630"/>
<use href="#bh" x="410.9" y="630"/>
<use href="#bh" x="420.3" y="630"/>
<use href="#bh" x="429.7" y="630"/>
<use href="#bh" x="439" y="630"/>
<use href="#bh" x="448.4" y="630"/>
<use href="#bh" x="457.8" y="630"/>
<use href="#bh" x="467.2" y="630"/>
<use href="#bh" x="476.5" y="630"/>
<use href="#bh" x="485.9" y="630"/>
<use href="#bh" x="495.3" y="630"/>
<use href="#bh" x="504.7" y="630"/>
<use href="#bh" x="514" y="630"/>
<use href="#bh" x="523.4" y="630"/>
<use href="#bh" x="532.8" y="630"/>
<use href="#bh" x="542.2" y="630"/>
<use href="#bh" x="551.5" y="630"/>
<use href="#bh" x="560.9" y="630"/>
<use href="#bh" x="570.3" y="630"/>
<use href="#bh" x="579.7" y="630"/>
<use href="#bh" x="589" y="630"/>
<use href="#bh" x="598.4" y="630"/>
<use href="#bh" x="607.8" y="630"/>
<use href="#bh" x="617.2" y="630"/>
<use href="#bh" x="626.6" y="630"/>
<use href="#bh" x="635.9" y="630"/>
<use href="#bh" x="645.3" y="630"/>
<use href="#bh" x="373.4" y="639.3"/>
<use href="#bh" x="382.8" y="639.3"/>
<use href="#bh" x="392.2" y="639.3"/>
<use href="#bh" x="401.5" y="639.3"/>
<use href="#bh" x="410.9" y="639.3"/>
<use href="#bh" x="420.3" y="639.3"/>
<use href="#bh" x="429.7" y="639.3"/>
<use href="#bh" x="439" y="639.3"/>
<use href="#bh" x="448.4" y="639.3"/>
<use href="#bh" x="457.8" y="639.3"/>
<use href="#bh" x="467.2" y="639.3"/>
<use href="#bh" x="476.5" y="639.3"/>
<use href="#bh" x="485.9" y="639.3"/>
<use href="#bh" x="495.3" y="639.3"/>
<use href="#bh" x="504.7" y="639.3"/>
<use href="#bh" x="514" y="639.3"/>
<use href="#bh" x="523.4" y="639.3"/>
<use href="#bh" x="532.8" y="639.3"/>
<use href="#bh" x="542.2" y="639.3"/>
<use href="#bh" x="551.5" y="639.3"/>
<use href="#bh" x="560.9" y="639.3"/>
<use href="#bh" x="570.3" y="639.3"/>
<use href="#bh" x="579.7" y="639.3"/>
<use href="#bh" x="589" y="639.3"/>
<use href="#bh" x="598.4" y="639.3"/>
<use href="#bh" x="607.8" y="639.3"/>
<use href="#bh" x="617.2" y="639.3"/>
<use href="#bh" x="626.6" y="639.3"/>
<use href="#bh" x="635.9" y="639.3"/>
<use href="#bh" x="645.3" y="639.3"/>
<use href="#bh" x="373.4" y="648.7"/>
<use href="#bh" x="382.8" y="648.7"/>
<use href="#bh" x="392.2" y="648.7"/>
<use href="#bh" x="401.5" y="648.7"/>
<use href="#bh" x="410.9" y="648.7"/>
<use href="#bh" x="420.3" y="648.7"/>
<use href="#bh" x="429.7" y="648.7"/>
<use href="#bh" x="439" y="648.7"/>
<use href="#bh" x="448.4" y="648.7"/>
<use href="#bh" x="457.8" y="648.7"/>
<use href="#bh" x="467.2" y="648.7"/>
<use href="#bh" x="476.5" y="648.7"/>
<use href="#bh" x="485.9" y="648.7"/>
<use href="#bh" x="495.3" y="648.7"/>
<use href="#bh" x="504.7" y="648.7"/>
<use href="#bh" x="514" y="648.7"/>
<use href="#bh" x="523.4" y="648.7"/>
<use href="#bh" x="532.8" y="648.7"/>
<use href="#bh" x="542.2" y="648.7"/>
<use href="#bh" x="551.5" y="648.7"/>
<use href="#bh" x="560.9" y="648.7"/>
<use href="#bh" x="570.3" y="648.7"/>
<use href="#bh" x="579.7" y="648.7"/>
<use href="#bh" x="589" y="648.7"/>
<use href="#bh" x="598.4" y="648.7"/>
<use href="#bh" x="607.8" y="648.7"/>
<use href="#bh" x="617.2" y="648.7"/>
<use href="#bh" x="626.6" y="648.7"/>
<use href="#bh" x="635.9" y="648.7"/>
<use href="#bh" x="645.3" y="648.7"/>
<use href="#bh" x="373.4" y="677"/>
<use href="#bh" x="382.8" y="677"/>
<use href="#bh" x="392.2" y="677"/>
<use href="#bh" x="401.5" y="677"/>
<use href="#bh" x="410.9" y="677"/>
<use href="#bh" x="420.3" y="677"/>
<use href="#bh" x="429.7" y="677"/>
<use href="#bh" x="439" y="677"/>
<use href="#bh" x="448.4" y="677"/>
<use href="#bh" x="457.8" y="677"/>
<use href="#bh" x="467.2" y="677"/>
<use href="#bh" x="476.5" y="677"/>
<use href="#bh" x="485.9" y="677"/>
<use href="#bh" x="495.3" y="677"/>
<use href="#bh" x="504.7" y="677"/>
<use href="#bh" x="514" y="677"/>
<use href="#bh" x="523.4" y="677"/>
<use href="#bh" x="532.8" y="677"/>
<use href="#bh" x="542.2" y="677"/>
<use href="#bh" x="551.5" y="677"/>
<use href="#bh" x="560.9" y="677"/>
<use href="#bh" x="570.3" y="677"/>
<use href="#bh" x="579.7" y="677"/>
<use href="#bh" x="589" y="677"/>
<use href="#bh" x="598.4" y="677"/>
<use href="#bh" x="607.8" y="677"/>
<use href="#bh" x="617.2" y="677"/>
<use href="#bh" x="626.6" y="677"/>
<use href="#bh" x="635.9" y="677"/>
<use href="#bh" x="645.3" y="677"/>
<use href="#bh" x="373.4" y="686.3"/>
<use href="#bh" x="382.8" y="686.3"/>
<use href="#bh" x="392.2" y="686.3"/>
<use href="#bh" x="401.5" y="686.3"/>
<use href="#bh" x="410.9" y="686.3"/>
<use href="#bh" x="420.3" y="686.3"/>
<use href="#bh" x="429.7" y="686.3"/>
<use href="#bh" x="439" y="686.3"/>
<use href="#bh" x="448.4" y="686.3"/>
<use href="#bh" x="457.8" y="686.3"/>
<use href="#bh" x="467.2" y="686.3"/>
<use href="#bh" x="476.5" y="686.3"/>
<use href="#bh" x="485.9" y="686.3"/>
<use href="#bh" x="495.3" y="686.3"/>
<use href="#bh" x="504.7" y="686.3"/>
<use href="#bh" x="514" y="686.3"/>
<use href="#bh" x="523.4" y="686.3"/>
<use href="#bh" x="532.8" y="686.3"/>
<use href="#bh" x="542.2" y="686.3"/>
<use href="#bh" x="551.5" y="686.3"/>
<use href="#bh" x="560.9" y="686.3"/>
<use href="#bh" x="570.3" y="686.3"/>
<use href="#bh" x="579.7" y="686.3"/>
<use href="#bh" x="589" y="686.3"/>
<use href="#bh" x="598.4" y="686.3"/>
<use href="#bh" x="607.8" y="686.3"/>
<use href="#bh" x="617.2" y="686.3"/>
<use href="#bh" x="626.6" y="686.3"/>
<use href="#bh" x="635.9" y="686.3"/>
<use href="#bh" x="645.3" y="686.3"/>
<path d="M362.2 503.2v4.6" stroke="#444" stroke-width=".9"/>
<path d="M362.2 672.2v4.6" stroke="#444" stroke-width=".9"/>
<path d="M359.7 521.5h5M362.2 519v5" stroke="#d33" stroke-width=".9"/>
<path d="M359.7 690.5h5M362.2 688v5" stroke="#d33" stroke-width=".9"/>
<path d="M655.5 503.2v4.6" stroke="#444" stroke-width=".9"/>
<path d="M655.5 672.2v4.6" stroke="#444" stroke-width=".9"/>
<path d="M653 521.5h5M655.5 519v5" stroke="#d33" stroke-width=".9"/>
<path d="M653 690.5h5M655.5 688v5" stroke="#d33" stroke-width=".9"/>
<text transform="translate(365.6 545.8) rotate(-90)" font-size="7.8" fill="#6a6a6a" text-anchor="middle">j</text>
<text transform="translate(365.6 555.2) rotate(-90)" font-size="7.8" fill="#6a6a6a" text-anchor="middle">i</text>
<text transform="translate(365.6 564.5) rotate(-90)" font-size="7.8" fill="#6a6a6a" text-anchor="middle">h</text>
<text transform="translate(365.6 573.9) rotate(-90)" font-size="7.8" fill="#6a6a6a" text-anchor="middle">g</text>
<text transform="translate(365.6 583.3) rotate(-90)" font-size="7.8" fill="#6a6a6a" text-anchor="middle">f</text>
<text transform="translate(365.6 611.3) rotate(-90)" font-size="7.8" fill="#6a6a6a" text-anchor="middle">e</text>
<text transform="translate(365.6 620.6) rotate(-90)" font-size="7.8" fill="#6a6a6a" text-anchor="middle">d</text>
<text transform="translate(365.6 630) rotate(-90)" font-size="7.8" fill="#6a6a6a" text-anchor="middle">c</text>
<text transform="translate(365.6 639.3) rotate(-90)" font-size="7.8" fill="#6a6a6a" text-anchor="middle">b</text>
<text transform="translate(365.6 648.7) rotate(-90)" font-size="7.8" fill="#6a6a6a" text-anchor="middle">a</text>
<text transform="translate(657.1 545.8) rotate(-90)" font-size="7.8" fill="#6a6a6a" text-anchor="middle">j</text>
<text transform="translate(657.1 555.2) rotate(-90)" font-size="7.8" fill="#6a6a6a" text-anchor="middle">i</text>
<text transform="translate(657.1 564.5) rotate(-90)" font-size="7.8" fill="#6a6a6a" text-anchor="middle">h</text>
<text transform="translate(657.1 573.9) rotate(-90)" font-size="7.8" fill="#6a6a6a" text-anchor="middle">g</text>
<text transform="translate(657.1 583.3) rotate(-90)" font-size="7.8" fill="#6a6a6a" text-anchor="middle">f</text>
<text transform="translate(657.1 611.3) rotate(-90)" font-size="7.8" fill="#6a6a6a" text-anchor="middle">e</text>
<text transform="translate(657.1 620.6) rotate(-90)" font-size="7.8" fill="#6a6a6a" text-anchor="middle">d</text>
<text transform="translate(657.1 630) rotate(-90)" font-size="7.8" fill="#6a6a6a" text-anchor="middle">c</text>
<text transform="translate(657.1 639.3) rotate(-90)" font-size="7.8" fill="#6a6a6a" text-anchor="middle">b</text>
<text transform="translate(657.1 648.7) rotate(-90)" font-size="7.8" fill="#6a6a6a" text-anchor="middle">a</text>
<text transform="translate(375.2 537) rotate(-90)" font-size="5.2" fill="#555" text-anchor="middle">1</text>
<text transform="translate(375.2 656.5) rotate(-90)" font-size="5.2" fill="#555" text-anchor="middle">1</text>
<text transform="translate(384.6 537) rotate(-90)" font-size="5.2" fill="#555" text-anchor="middle">2</text>
<text transform="translate(384.6 656.5) rotate(-90)" font-size="5.2" fill="#555" text-anchor="middle">2</text>
<text transform="translate(394 537) rotate(-90)" font-size="5.2" fill="#555" text-anchor="middle">3</text>
<text transform="translate(394 656.5) rotate(-90)" font-size="5.2" fill="#555" text-anchor="middle">3</text>
<text transform="translate(403.3 537) rotate(-90)" font-size="5.2" fill="#555" text-anchor="middle">4</text>
<text transform="translate(403.3 656.5) rotate(-90)" font-size="5.2" fill="#555" text-anchor="middle">4</text>
<text transform="translate(412.7 537) rotate(-90)" font-size="5.2" fill="#555" text-anchor="middle">5</text>
<text transform="translate(412.7 656.5) rotate(-90)" font-size="5.2" fill="#555" text-anchor="middle">5</text>
<text transform="translate(422.1 537) rotate(-90)" font-size="5.2" fill="#555" text-anchor="middle">6</text>
<text transform="translate(422.1 656.5) rotate(-90)" font-size="5.2" fill="#555" text-anchor="middle">6</text>
<text transform="translate(431.5 537) rotate(-90)" font-size="5.2" fill="#555" text-anchor="middle">7</text>
<text transform="translate(431.5 656.5) rotate(-90)" font-size="5.2" fill="#555" text-anchor="middle">7</text>
<text transform="translate(440.8 537) rotate(-90)" font-size="5.2" fill="#555" text-anchor="middle">8</text>
<text transform="translate(440.8 656.5) rotate(-90)" font-size="5.2" fill="#555" text-anchor="middle">8</text>
<text transform="translate(450.2 537) rotate(-90)" font-size="5.2" fill="#555" text-anchor="middle">9</text>
<text transform="translate(450.2 656.5) rotate(-90)" font-size="5.2" fill="#555" text-anchor="middle">9</text>
<text transform="translate(459.6 537) rotate(-90)" font-size="5.2" fill="#555" text-anchor="middle">10</text>
<text transform="translate(459.6 656.5) rotate(-90)" font-size="5.2" fill="#555" text-anchor="middle">10</text>
<text transform="translate(469 537) rotate(-90)" font-size="5.2" fill="#555" text-anchor="middle">11</text>
<text transform="translate(469 656.5) rotate(-90)" font-size="5.2" fill="#555" text-anchor="middle">11</text>
<text transform="translate(478.3 537) rotate(-90)" font-size="5.2" fill="#555" text-anchor="middle">12</text>
<text transform="translate(478.3 656.5) rotate(-90)" font-size="5.2" fill="#555" text-anchor="middle">12</text>
<text transform="translate(487.7 537) rotate(-90)" font-size="5.2" fill="#555" text-anchor="middle">13</text>
<text transform="translate(487.7 656.5) rotate(-90)" font-size="5.2" fill="#555" text-anchor="middle">13</text>
<text transform="translate(497.1 537) rotate(-90)" font-size="5.2" fill="#555" text-anchor="middle">14</text>
<text transform="translate(497.1 656.5) rotate(-90)" font-size="5.2" fill="#555" text-anchor="middle">14</text>
<text transform="translate(506.5 537) rotate(-90)" font-size="5.2" fill="#555" text-anchor="middle">15</text>
<text transform="translate(506.5 656.5) rotate(-90)" font-size="5.2" fill="#555" text-anchor="middle">15</text>
<text transform="translate(515.8 537) rotate(-90)" font-size="5.2" fill="#555" text-anchor="middle">16</text>
<text transform="translate(515.8 656.5) rotate(-90)" font-size="5.2" fill="#555" text-anchor="middle">16</text>
<text transform="translate(525.2 537) rotate(-90)" font-size="5.2" fill="#555" text-anchor="middle">17</text>
<text transform="translate(525.2 656.5) rotate(-90)" font-size="5.2" fill="#555" text-anchor="middle">17</text>
<text transform="translate(534.6 537) rotate(-90)" font-size="5.2" fill="#555" text-anchor="middle">18</text>
<text transform="translate(534.6 656.5) rotate(-90)" font-size="5.2" fill="#555" text-anchor="middle">18</text>
<text transform="translate(544 537) rotate(-90)" font-size="5.2" fill="#555" text-anchor="middle">19</text>
<text transform="translate(544 656.5) rotate(-90)" font-size="5.2" fill="#555" text-anchor="middle">19</text>
<text transform="translate(553.3 537) rotate(-90)" font-size="5.2" fill="#555" text-anchor="middle">20</text>
<text transform="translate(553.3 656.5) rotate(-90)" font-size="5.2" fill="#555" text-anchor="middle">20</text>
<text transform="translate(562.7 537) rotate(-90)" font-size="5.2" fill="#555" text-anchor="middle">21</text>
<text transform="translate(562.7 656.5) rotate(-90)" font-size="5.2" fill="#555" text-anchor="middle">21</text>
<text transform="translate(572.1 537) rotate(-90)" font-size="5.2" fill="#555" text-anchor="middle">22</text>
<text transform="translate(572.1 656.5) rotate(-90)" font-size="5.2" fill="#555" text-anchor="middle">22</text>
<text transform="translate(581.5 537) rotate(-90)" font-size="5.2" fill="#555" text-anchor="middle">23</text>
<text transform="translate(581.5 656.5) rotate(-90)" font-size="5.2" fill="#555" text-anchor="middle">23</text>
<text transform="translate(590.8 537) rotate(-90)" font-size="5.2" fill="#555" text-anchor="middle">24</text>
<text transform="translate(590.8 656.5) rotate(-90)" font-size="5.2" fill="#555" text-anchor="middle">24</text>
<text transform="translate(600.2 537) rotate(-90)" font-size="5.2" fill="#555" text-anchor="middle">25</text>
<text transform="translate(600.2 656.5) rotate(-90)" font-size="5.2" fill="#555" text-anchor="middle">25</text>
<text transform="translate(609.6 537) rotate(-90)" font-size="5.2" fill="#555" text-anchor="middle">26</text>
<text transform="translate(609.6 656.5) rotate(-90)" font-size="5.2" fill="#555" text-anchor="middle">26</text>
<text transform="translate(619 537) rotate(-90)" font-size="5.2" fill="#555" text-anchor="middle">27</text>
<text transform="translate(619 656.5) rotate(-90)" font-size="5.2" fill="#555" text-anchor="middle">27</text>
<text transform="translate(628.4 537) rotate(-90)" font-size="5.2" fill="#555" text-anchor="middle">28</text>
<text transform="translate(628.4 656.5) rotate(-90)" font-size="5.2" fill="#555" text-anchor="middle">28</text>
<text transform="translate(637.7 537) rotate(-90)" font-size="5.2" fill="#555" text-anchor="middle">29</text>
<text transform="translate(637.7 656.5) rotate(-90)" font-size="5.2" fill="#555" text-anchor="middle">29</text>
<text transform="translate(647.1 537) rotate(-90)" font-size="5.2" fill="#555" text-anchor="middle">30</text>
<text transform="translate(647.1 656.5) rotate(-90)" font-size="5.2" fill="#555" text-anchor="middle">30</text>
<rect x="371.3" y="547.9" width="22.6" height="24" rx="1.5" fill="#b4b4b4"/>
<circle cx="374.8" cy="551.5" r="2" fill="#3a3a3a"/>
<circle cx="390.4" cy="551.5" r="2" fill="#3a3a3a"/>
<circle cx="374.8" cy="568.3" r="2" fill="#3a3a3a"/>
<circle cx="390.4" cy="568.3" r="2" fill="#3a3a3a"/>
<circle cx="382.7" cy="559.9" r="6.6" fill="#2e2e2e"/>
<path d="M239 301.5V236.8a9.5 9.5 0 0 1 9.5 -9.5H647.9a9.5 9.5 0 0 1 9.5 9.5V306" fill="none" stroke="#ef8000" stroke-width="2.7" stroke-linecap="round" stroke-linejoin="round"/>
<path d="M248.3 301.5V247.3a9.5 9.5 0 0 1 9.5 -9.5H598.6a9.5 9.5 0 0 1 9.5 9.5V306" fill="none" stroke="#ef8000" stroke-width="2.7" stroke-linecap="round" stroke-linejoin="round"/>
<path d="M257.9 301.5V259.3a9.5 9.5 0 0 1 9.5 -9.5H548.8a9.5 9.5 0 0 1 9.5 9.5V306" fill="none" stroke="#ef8000" stroke-width="2.7" stroke-linecap="round" stroke-linejoin="round"/>
<path d="M267.3 301.5V265.9a9.5 9.5 0 0 1 9.5 -9.5H494.8a9.5 9.5 0 0 1 9.5 9.5V306" fill="none" stroke="#ef8000" stroke-width="2.7" stroke-linecap="round" stroke-linejoin="round"/>
<path d="M276.6 301.5V276.7a9.5 9.5 0 0 1 9.5 -9.5H436.2a9.5 9.5 0 0 1 9.5 9.5V306" fill="none" stroke="#ef8000" stroke-width="2.7" stroke-linecap="round" stroke-linejoin="round"/>
<path d="M285.9 301.5V291.3a9.5 9.5 0 0 1 9.5 -9.5H379.6a9.5 9.5 0 0 1 9.5 9.5V306" fill="none" stroke="#ef8000" stroke-width="2.7" stroke-linecap="round" stroke-linejoin="round"/>
<path d="M201.5 222L224.4 301.5" fill="none" stroke="#0a98d8" stroke-width="2.4" stroke-linecap="round" stroke-linejoin="round"/>
<path d="M210.8 222L214.9 301.5" fill="none" stroke="#2fb336" stroke-width="2.4" stroke-linecap="round" stroke-linejoin="round"/>
<path d="M220.1 222V238C220.1 250 219 252 212 259L168 301.5" fill="none" stroke="#2b2b2b" stroke-width="2.4" stroke-linecap="round" stroke-linejoin="round"/>
<path d="M411.2 508L373.4 545.8" fill="none" stroke="#2b2b2b" stroke-width="2.4" stroke-linecap="round" stroke-linejoin="round"/>
<path d="M382.4 517.3L392 545.8" fill="none" stroke="#e0161b" stroke-width="2.4" stroke-linecap="round" stroke-linejoin="round"/>
<path d="M229.4 479.5V499a9.5 9.5 0 0 0 9.5 9.5H373.4" fill="none" stroke="#2b2b2b" stroke-width="2.4" stroke-linecap="round" stroke-linejoin="round"/>
<path d="M220 479.5L224.5 539" fill="none" stroke="#2b2b2b" stroke-width="2.4" stroke-linecap="round" stroke-linejoin="round"/>
<path d="M210.7 479.5L212.4 542" fill="none" stroke="#e0161b" stroke-width="2.4" stroke-linecap="round" stroke-linejoin="round"/>
<path d="M192.2 222L213.3 500C214 510 216 517.5 226 517.5H373.4" fill="none" stroke="#e0161b" stroke-width="2.4" stroke-linecap="round" stroke-linejoin="round"/>
<path d="M257.8 479.5L261.9 520C263 528 264.5 531.5 272 535L373.4 583.3" fill="none" stroke="#ef8000" stroke-width="2.7" stroke-linecap="round" stroke-linejoin="round"/>
<path d="M267.2 479.5L278.3 548C279.5 557 277 563.5 269 566" fill="none" stroke="#2fb336" stroke-width="2.4" stroke-linecap="round" stroke-linejoin="round"/>
<use href="#servo" x="379.5" y="304.2"/><use href="#servo" x="436.9" y="304.9"/><use href="#servo" x="495.1" y="304.9"/><use href="#servo" x="549.7" y="304.9"/><use href="#servo" x="598.4" y="304.2"/><use href="#servo" x="647.6" y="304.2"/>
<path d="M379.8 462L382.4 507.7" fill="none" stroke="#2b2b2b" stroke-width="2.4" stroke-linecap="round" stroke-linejoin="round"/>
<path d="M429.3 472L429.3 507.7" fill="none" stroke="#2b2b2b" stroke-width="2.4" stroke-linecap="round" stroke-linejoin="round"/>
<path d="M485.8 472L485.8 507.7" fill="none" stroke="#2b2b2b" stroke-width="2.4" stroke-linecap="round" stroke-linejoin="round"/>
<path d="M542.2 472L542.2 507.7" fill="none" stroke="#2b2b2b" stroke-width="2.4" stroke-linecap="round" stroke-linejoin="round"/>
<path d="M589 472L589 507.7" fill="none" stroke="#2b2b2b" stroke-width="2.4" stroke-linecap="round" stroke-linejoin="round"/>
<path d="M636.2 472L636.2 507.7" fill="none" stroke="#2b2b2b" stroke-width="2.4" stroke-linecap="round" stroke-linejoin="round"/>
<path d="M389.1 472L391.8 517.2" fill="none" stroke="#e0161b" stroke-width="2.4" stroke-linecap="round" stroke-linejoin="round"/>
<path d="M438.6 462L438.6 517.2" fill="none" stroke="#e0161b" stroke-width="2.4" stroke-linecap="round" stroke-linejoin="round"/>
<path d="M495.1 462L495.1 517.2" fill="none" stroke="#e0161b" stroke-width="2.4" stroke-linecap="round" stroke-linejoin="round"/>
<path d="M551 462L551 517.2" fill="none" stroke="#e0161b" stroke-width="2.4" stroke-linecap="round" stroke-linejoin="round"/>
<path d="M598.4 462L598.4 517.2" fill="none" stroke="#e0161b" stroke-width="2.4" stroke-linecap="round" stroke-linejoin="round"/>
<path d="M645.5 462L645.5 517.2" fill="none" stroke="#e0161b" stroke-width="2.4" stroke-linecap="round" stroke-linejoin="round"/>
<circle cx="229" cy="581" r="42" fill="#000"/>
<circle cx="229" cy="545.7" r="3.6" fill="#fff"/><circle cx="229" cy="615.7" r="3.6" fill="#fff"/>
<use href="#npx" transform="translate(229 580.8) rotate(0)"/>
<use href="#npx" transform="translate(199.4 580.8) rotate(180)"/>
<use href="#npx" transform="translate(259.3 580.8) rotate(0)"/>
<use href="#npx" transform="translate(213.9 554.8) rotate(-30)"/>
<use href="#npx" transform="translate(244.5 554.8) rotate(30)"/>
<use href="#npx" transform="translate(213.9 606.2) rotate(30)"/>
<use href="#npx" transform="translate(244.5 606.2) rotate(-30)"/>
<circle cx="214.1" cy="572.6" r="2.9" fill="#d8c68c"/><circle cx="214.1" cy="572.6" r="1.6" fill="#e03030"/>
<circle cx="214.1" cy="589.3" r="2.9" fill="#d8c68c"/><circle cx="214.1" cy="589.3" r="1.6" fill="#e03030"/>
<circle cx="244.1" cy="572.6" r="2.9" fill="#d8c68c"/><circle cx="244.1" cy="572.6" r="1.6" fill="#3cb34a"/>
<circle cx="244.1" cy="589.3" r="2.9" fill="#d8c68c"/><circle cx="244.1" cy="589.3" r="1.6" fill="#fff"/>
<circle cx="229" cy="597.8" r="2.9" fill="#d8c68c"/><circle cx="229" cy="597.8" r="1.6" fill="#222"/>
<rect x="-3.6" y="-1.5" width="7.2" height="3" fill="#b9a98c" transform="translate(200 564.1) rotate(35)"/><rect x="-1.5" y="-1.5" width="3" height="3" fill="#8a8a8a" transform="translate(200 564.1) rotate(35)"/>
<rect x="-3.6" y="-1.5" width="7.2" height="3" fill="#b9a98c" transform="translate(258.4 564.1) rotate(-35)"/><rect x="-1.5" y="-1.5" width="3" height="3" fill="#8a8a8a" transform="translate(258.4 564.1) rotate(-35)"/>
<rect x="-3.6" y="-1.5" width="7.2" height="3" fill="#b9a98c" transform="translate(200 598) rotate(-35)"/><rect x="-1.5" y="-1.5" width="3" height="3" fill="#8a8a8a" transform="translate(200 598) rotate(-35)"/>
<rect x="-3.6" y="-1.5" width="7.2" height="3" fill="#b9a98c" transform="translate(258.4 598) rotate(35)"/><rect x="-1.5" y="-1.5" width="3" height="3" fill="#8a8a8a" transform="translate(258.4 598) rotate(35)"/>
<rect x="224.5" y="564.5" width="9" height="3" fill="#ddd"/><rect x="227" y="564.5" width="4" height="3" fill="#555"/>
<text x="216" y="570" font-size="3.8" font-weight="bold" fill="#fff">IN</text><text x="209" y="582.5" font-size="3.8" font-weight="bold" fill="#fff">PWR</text>
<text transform="translate(242.6 577) rotate(90)" font-size="3.8" font-weight="bold" fill="#fff">OUT</text>
<text transform="translate(233.5 598) rotate(-25)" font-size="3.8" font-weight="bold" fill="#fff">GND</text>
</svg>
</div>
<div id="panel">
  <div id="phead">
    <div class="dd" style="left:7px;width:268px">Blocks + Text</div>
    <div class="abs" style="left:283px;top:0;width:1px;height:54px;background:#dcdfe5"></div>
    <div class="ibtn" style="left:302px"></div>
    <div class="ibtn" style="left:354px"></div>
    <div class="ibtn" style="left:406px"></div>
    <svg style="position:absolute;left:300px;top:0" width="160" height="54" viewBox="968 54 160 54">
<path d="M988.9 74.2h4.8v5.8h3.3l-5.7 8.5l-5.7-8.500h3.300z" fill="#000"/>
<rect x="980.800" y="89" width="20.800" height="2.300" fill="#000"/>
<path d="M1033 78.600L1037.500 72H1048.600L1053 78.600V89.700H1033Z" fill="#929daa"/>
<path d="M1037.700 74h10.700M1036.400 76.300h13.300" stroke="#b4bcc6" stroke-width=".8"/>
<rect x="1038.400" y="82.200" width="9.400" height="1.700" rx=".4" fill="#dfe3e8"/>
<g fill="#34475d" stroke="#34475d" stroke-linecap="round">
<ellipse cx="1094.800" cy="82" rx="4.800" ry="8" stroke="none"/>
<ellipse cx="1094.800" cy="75.600" rx="2.600" ry="2.600" stroke="none"/>
<path d="M1093.500 74.500L1091 71.600M1096.100 74.500L1098.600 71.600" stroke-width="1.300" fill="none"/>
<path d="M1090.500 79.500L1087.200 77M1099.100 79.500L1102.400 77M1090 82.800L1085.800 83.300M1099.600 82.800L1103.800 83.300M1090.600 86L1087.300 88.800M1099 86L1102.300 88.800" stroke-width="1.500" fill="none"/>
</g>
<path d="M1094.800 84v7" stroke="#f1f1f3" stroke-width=".9"/>
</svg>

    <div class="abs" style="left:1021px;top:0;width:1px;height:54px;background:#dcdfe5"></div>
    <div class="dd" style="left:1030px;width:210px;font-size:16.3px">1 (Arduino Uno R3)</div>
  </div>
  <div id="palette">
    <div id="cats">
      <div class="abs" style="left:2px;top:0;width:140px;height:26px;border-radius:13px;background:#e9eef2"></div>
      <div class="cat" style="left:5px;top:4px"><i style="background:#4c97ff"></i><span>Output</span></div>
      <div class="cat" style="left:146px;top:4px"><i style="background:#ffab19"></i><span>Control</span></div>
      <div class="cat" style="left:5px;top:30px"><i style="background:#9966ff"></i><span>Input</span></div>
      <div class="cat" style="left:146px;top:30px"><i style="background:#40bf4a"></i><span>Math</span></div>
      <div class="cat" style="left:5px;top:56px"><i style="background:#8e8e8e"></i><span>Notation</span></div>
      <div class="cat" style="left:146px;top:56px"><i style="background:#d65cd6"></i><span>Variables</span></div>
    </div>
    <svg class="bsvg" style="position:absolute;left:0;top:0" width="280" height="682" viewBox="668 109 280 682">
<g transform="translate(678.80,211.60) scale(0.8420)"><path d="M0,4 A4,4 0 0,1 4,0 H12 c 2,0 3,1 4,2 l 4,4 c 1,1 2,2 4,2 h 12 c 2,0 3,-1 4,-2 l 4,-4 c 1,-1 2,-2 4,-2 H228.28 a4,4 0 0,1 4,4 v40.0 a4,4 0 0,1 -4,4 H48 c -2,0 -3,1 -4,2 l -4,4 c -1,1 -2,2 -4,2 h -12 c -2,0 -3,-1 -4,-2 l -4,-4 c -1,-1 -2,-2 -4,-2 H4 a4,4 0 0,1 -4,-4z" fill="#4c97ff" stroke="#3373cc"/><text x="8.00" y="30.3" fill="#fff">set built-in LED to</text><rect x="142.28" y="8.0" width="82.00" height="32" rx="4" fill="#4c97ff" stroke="#3373cc"/><text x="153.28" y="30.3" fill="#fff">HIGH</text><path d="M202.88 21.4 h8.2 a1.1 1.1 0 0 1 .8 1.9 l-4.1 4.4 a1.1 1.1 0 0 1 -1.6 0 l-4.1 -4.4 a1.1 1.1 0 0 1 .8 -1.9z" fill="#fff"/></g>
<g transform="translate(678.80,268.90) scale(0.8420)"><path d="M0,4 A4,4 0 0,1 4,0 H12 c 2,0 3,1 4,2 l 4,4 c 1,1 2,2 4,2 h 12 c 2,0 3,-1 4,-2 l 4,-4 c 1,-1 2,-2 4,-2 H229.38 a4,4 0 0,1 4,4 v40.0 a4,4 0 0,1 -4,4 H48 c -2,0 -3,1 -4,2 l -4,4 c -1,1 -2,2 -4,2 h -12 c -2,0 -3,-1 -4,-2 l -4,-4 c -1,-1 -2,-2 -4,-2 H4 a4,4 0 0,1 -4,-4z" fill="#4c97ff" stroke="#3373cc"/><text x="8.00" y="30.3" fill="#fff">set pin</text><rect x="63.14" y="8.0" width="50.90" height="32" rx="4" fill="#4c97ff" stroke="#3373cc"/><text x="74.14" y="30.3" fill="#fff">0</text><path d="M92.64 21.4 h8.2 a1.1 1.1 0 0 1 .8 1.9 l-4.1 4.4 a1.1 1.1 0 0 1 -1.6 0 l-4.1 -4.4 a1.1 1.1 0 0 1 .8 -1.9z" fill="#fff"/><text x="122.04" y="30.3" fill="#fff">to</text><rect x="143.38" y="8.0" width="82.00" height="32" rx="4" fill="#4c97ff" stroke="#3373cc"/><text x="154.38" y="30.3" fill="#fff">HIGH</text><path d="M203.98 21.4 h8.2 a1.1 1.1 0 0 1 .8 1.9 l-4.1 4.4 a1.1 1.1 0 0 1 -1.6 0 l-4.1 -4.4 a1.1 1.1 0 0 1 .8 -1.9z" fill="#fff"/></g>
<g transform="translate(678.80,326.20) scale(0.8420)"><path d="M0,4 A4,4 0 0,1 4,0 H12 c 2,0 3,1 4,2 l 4,4 c 1,1 2,2 4,2 h 12 c 2,0 3,-1 4,-2 l 4,-4 c 1,-1 2,-2 4,-2 H187.38 a4,4 0 0,1 4,4 v40.0 a4,4 0 0,1 -4,4 H48 c -2,0 -3,1 -4,2 l -4,4 c -1,1 -2,2 -4,2 h -12 c -2,0 -3,-1 -4,-2 l -4,-4 c -1,-1 -2,-2 -4,-2 H4 a4,4 0 0,1 -4,-4z" fill="#4c97ff" stroke="#3373cc"/><text x="8.00" y="30.3" fill="#fff">set pin</text><rect x="63.14" y="8.0" width="50.90" height="32" rx="4" fill="#4c97ff" stroke="#3373cc"/><text x="74.14" y="30.3" fill="#fff">3</text><path d="M92.64 21.4 h8.2 a1.1 1.1 0 0 1 .8 1.9 l-4.1 4.4 a1.1 1.1 0 0 1 -1.6 0 l-4.1 -4.4 a1.1 1.1 0 0 1 .8 -1.9z" fill="#fff"/><text x="122.04" y="30.3" fill="#fff">to</text><rect x="143.38" y="8.0" width="40.00" height="32" rx="16" fill="#fff" stroke="#3373cc"/><text x="163.38" y="30.3" fill="#575e75" text-anchor="middle">0</text></g>
<g transform="translate(678.80,383.50) scale(0.8420)"><path d="M0,4 A4,4 0 0,1 4,0 H12 c 2,0 3,1 4,2 l 4,4 c 1,1 2,2 4,2 h 12 c 2,0 3,-1 4,-2 l 4,-4 c 1,-1 2,-2 4,-2 H338.59 a4,4 0 0,1 4,4 v40.0 a4,4 0 0,1 -4,4 H48 c -2,0 -3,1 -4,2 l -4,4 c -1,1 -2,2 -4,2 h -12 c -2,0 -3,-1 -4,-2 l -4,-4 c -1,-1 -2,-2 -4,-2 H4 a4,4 0 0,1 -4,-4z" fill="#4c97ff" stroke="#3373cc"/><text x="8.00" y="30.3" fill="#fff">rotate servo on pin</text><rect x="148.52" y="8.0" width="50.90" height="32" rx="4" fill="#4c97ff" stroke="#3373cc"/><text x="159.52" y="30.3" fill="#fff">0</text><path d="M178.02 21.4 h8.2 a1.1 1.1 0 0 1 .8 1.9 l-4.1 4.4 a1.1 1.1 0 0 1 -1.6 0 l-4.1 -4.4 a1.1 1.1 0 0 1 .8 -1.9z" fill="#fff"/><text x="207.42" y="30.3" fill="#fff">to</text><rect x="228.77" y="8.0" width="40.00" height="32" rx="16" fill="#fff" stroke="#3373cc"/><text x="248.77" y="30.3" fill="#575e75" text-anchor="middle">0</text><text x="276.77" y="30.3" fill="#fff">degrees</text></g>
<g transform="translate(678.80,440.80) scale(0.8420)"><path d="M0,4 A4,4 0 0,1 4,0 H12 c 2,0 3,1 4,2 l 4,4 c 1,1 2,2 4,2 h 12 c 2,0 3,-1 4,-2 l 4,-4 c 1,-1 2,-2 4,-2 H437.27 a4,4 0 0,1 4,4 v40.0 a4,4 0 0,1 -4,4 H48 c -2,0 -3,1 -4,2 l -4,4 c -1,1 -2,2 -4,2 h -12 c -2,0 -3,-1 -4,-2 l -4,-4 c -1,-1 -2,-2 -4,-2 H4 a4,4 0 0,1 -4,-4z" fill="#4c97ff" stroke="#3373cc"/><text x="8.00" y="30.3" fill="#fff">play speaker on pin</text><rect x="154.76" y="8.0" width="50.90" height="32" rx="4" fill="#4c97ff" stroke="#3373cc"/><text x="165.76" y="30.3" fill="#fff">0</text><path d="M184.26 21.4 h8.2 a1.1 1.1 0 0 1 .8 1.9 l-4.1 4.4 a1.1 1.1 0 0 1 -1.6 0 l-4.1 -4.4 a1.1 1.1 0 0 1 .8 -1.9z" fill="#fff"/><text x="213.66" y="30.3" fill="#fff">with tone</text><rect x="285.70" y="8.0" width="40.00" height="32" rx="16" fill="#fff" stroke="#3373cc"/><text x="305.70" y="30.3" fill="#575e75" text-anchor="middle">60</text><text x="333.70" y="30.3" fill="#fff">for</text><rect x="360.37" y="8.0" width="40.00" height="32" rx="16" fill="#fff" stroke="#3373cc"/><text x="380.37" y="30.3" fill="#575e75" text-anchor="middle">1</text><text x="408.37" y="30.3" fill="#fff">sec</text></g>
<g transform="translate(678.80,498.10) scale(0.8420)"><path d="M0,4 A4,4 0 0,1 4,0 H12 c 2,0 3,1 4,2 l 4,4 c 1,1 2,2 4,2 h 12 c 2,0 3,-1 4,-2 l 4,-4 c 1,-1 2,-2 4,-2 H229.82 a4,4 0 0,1 4,4 v40.0 a4,4 0 0,1 -4,4 H48 c -2,0 -3,1 -4,2 l -4,4 c -1,1 -2,2 -4,2 h -12 c -2,0 -3,-1 -4,-2 l -4,-4 c -1,-1 -2,-2 -4,-2 H4 a4,4 0 0,1 -4,-4z" fill="#4c97ff" stroke="#3373cc"/><text x="8.00" y="30.3" fill="#fff">turn off speaker on pin</text><rect x="174.92" y="8.0" width="50.90" height="32" rx="4" fill="#4c97ff" stroke="#3373cc"/><text x="185.92" y="30.3" fill="#fff">0</text><path d="M204.42 21.4 h8.2 a1.1 1.1 0 0 1 .8 1.9 l-4.1 4.4 a1.1 1.1 0 0 1 -1.6 0 l-4.1 -4.4 a1.1 1.1 0 0 1 .8 -1.9z" fill="#fff"/></g>
<g transform="translate(678.80,555.40) scale(0.8420)"><path d="M0,4 A4,4 0 0,1 4,0 H12 c 2,0 3,1 4,2 l 4,4 c 1,1 2,2 4,2 h 12 c 2,0 3,-1 4,-2 l 4,-4 c 1,-1 2,-2 4,-2 H408.59 a4,4 0 0,1 4,4 v40.0 a4,4 0 0,1 -4,4 H48 c -2,0 -3,1 -4,2 l -4,4 c -1,1 -2,2 -4,2 h -12 c -2,0 -3,-1 -4,-2 l -4,-4 c -1,-1 -2,-2 -4,-2 H4 a4,4 0 0,1 -4,-4z" fill="#4c97ff" stroke="#3373cc"/><text x="8.00" y="30.3" fill="#fff">print to serial monitor</text><rect x="165.39" y="8.0" width="98.48" height="32" rx="16" fill="#fff" stroke="#3373cc"/><text x="214.63" y="30.3" fill="#575e75" text-anchor="middle">hello world</text><rect x="271.88" y="8.0" width="70.45" height="32" rx="4" fill="#4c97ff" stroke="#3373cc"/><text x="282.88" y="30.3" fill="#fff">with</text><path d="M320.93 21.4 h8.2 a1.1 1.1 0 0 1 .8 1.9 l-4.1 4.4 a1.1 1.1 0 0 1 -1.6 0 l-4.1 -4.4 a1.1 1.1 0 0 1 .8 -1.9z" fill="#fff"/><text x="350.33" y="30.3" fill="#fff">newline</text></g>
<g transform="translate(678.80,612.70) scale(0.8420)"><path d="M0,4 A4,4 0 0,1 4,0 H12 c 2,0 3,1 4,2 l 4,4 c 1,1 2,2 4,2 h 12 c 2,0 3,-1 4,-2 l 4,-4 c 1,-1 2,-2 4,-2 H411.89 a4,4 0 0,1 4,4 v40.0 a4,4 0 0,1 -4,4 H48 c -2,0 -3,1 -4,2 l -4,4 c -1,1 -2,2 -4,2 h -12 c -2,0 -3,-1 -4,-2 l -4,-4 c -1,-1 -2,-2 -4,-2 H4 a4,4 0 0,1 -4,-4z" fill="#4c97ff" stroke="#3373cc"/><text x="8.00" y="30.3" fill="#fff">set RGB LED in pins</text><rect x="162.73" y="8.0" width="50.90" height="32" rx="4" fill="#4c97ff" stroke="#3373cc"/><text x="173.73" y="30.3" fill="#fff">3</text><path d="M192.22 21.4 h8.2 a1.1 1.1 0 0 1 .8 1.9 l-4.1 4.4 a1.1 1.1 0 0 1 -1.6 0 l-4.1 -4.4 a1.1 1.1 0 0 1 .8 -1.9z" fill="#fff"/><text x="221.62" y="30.3" fill="#fff"></text><rect x="229.62" y="8.0" width="50.90" height="32" rx="4" fill="#4c97ff" stroke="#3373cc"/><text x="240.62" y="30.3" fill="#fff">3</text><path d="M259.12 21.4 h8.2 a1.1 1.1 0 0 1 .8 1.9 l-4.1 4.4 a1.1 1.1 0 0 1 -1.6 0 l-4.1 -4.4 a1.1 1.1 0 0 1 .8 -1.9z" fill="#fff"/><text x="288.52" y="30.3" fill="#fff"></text><rect x="296.52" y="8.0" width="50.90" height="32" rx="4" fill="#4c97ff" stroke="#3373cc"/><text x="307.52" y="30.3" fill="#fff">3</text><path d="M326.02 21.4 h8.2 a1.1 1.1 0 0 1 .8 1.9 l-4.1 4.4 a1.1 1.1 0 0 1 -1.6 0 l-4.1 -4.4 a1.1 1.1 0 0 1 .8 -1.9z" fill="#fff"/><text x="355.42" y="30.3" fill="#fff">to color</text></g>
</svg>
  </div>
  <div id="wsb"></div>
  <div id="ws">
  <svg class="bsvg" style="position:absolute;left:0;top:0" width="399" height="682" viewBox="952 109 399 682">
<g transform="translate(953.40,44.17) scale(0.9215)"><path d="M0,4 A4,4 0 0,1 4,0 H12 c 2,0 3,1 4,2 l 4,4 c 1,1 2,2 4,2 h 12 c 2,0 3,-1 4,-2 l 4,-4 c 1,-1 2,-2 4,-2 H896.00 a4,4 0 0,1 4,4 v40 a4,4 0 0,1 -4,4 H64 c -2,0 -3,1 -4,2 l -4,4 c -1,1 -2,2 -4,2 h -12 c -2,0 -3,-1 -4,-2 l -4,-4 c -1,-1 -2,-2 -4,-2 h-8 a4,4 0 0,0 -4,4 v1992.00 a4,4 0 0,0 4,4 h8 c 2,0 3,1 4,2 l 4,4 c 1,1 2,2 4,2 h 12 c 2,0 3,-1 4,-2 l 4,-4 c 1,-1 2,-2 4,-2 H896.00 a4,4 0 0,1 4,4 v24 a4,4 0 0,1 -4,4 H48 c -2,0 -3,1 -4,2 l -4,4 c -1,1 -2,2 -4,2 h -12 c -2,0 -3,-1 -4,-2 l -4,-4 c -1,-1 -2,-2 -4,-2 H4 a4,4 0 0,1 -4,-4z" fill="#ffab19" stroke="#cf8b17"/></g>
<g transform="translate(968.14,88.40) scale(0.9215)"><path d="M0,4 A4,4 0 0,1 4,0 H12 c 2,0 3,1 4,2 l 4,4 c 1,1 2,2 4,2 h 12 c 2,0 3,-1 4,-2 l 4,-4 c 1,-1 2,-2 4,-2 H538.27 a4,4 0 0,1 4,4 v40.0 a4,4 0 0,1 -4,4 H48 c -2,0 -3,1 -4,2 l -4,4 c -1,1 -2,2 -4,2 h -12 c -2,0 -3,-1 -4,-2 l -4,-4 c -1,-1 -2,-2 -4,-2 H4 a4,4 0 0,1 -4,-4z" fill="#8e8e8e" stroke="#737373"/><text x="8.00" y="30.3" fill="#fff">comment</text><rect x="81.80" y="8.0" width="452.48" height="32" rx="16" fill="#fff" stroke="#737373"/><text x="308.04" y="30.3" fill="#575e75" text-anchor="middle">sweep the servo from 0 to 180 degrees in steps of 1 degrees</text></g>
<g transform="translate(968.14,132.63) scale(0.9215)"><path d="M0,4 A4,4 0 0,1 4,0 H12 c 2,0 3,1 4,2 l 4,4 c 1,1 2,2 4,2 h 12 c 2,0 3,-1 4,-2 l 4,-4 c 1,-1 2,-2 4,-2 H486.14 a4,4 0 0,1 4,4 v40 a4,4 0 0,1 -4,4 H64 c -2,0 -3,1 -4,2 l -4,4 c -1,1 -2,2 -4,2 h -12 c -2,0 -3,-1 -4,-2 l -4,-4 c -1,-1 -2,-2 -4,-2 h-8 a4,4 0 0,0 -4,4 v424.00 a4,4 0 0,0 4,4 h8 c 2,0 3,1 4,2 l 4,4 c 1,1 2,2 4,2 h 12 c 2,0 3,-1 4,-2 l 4,-4 c 1,-1 2,-2 4,-2 H486.14 a4,4 0 0,1 4,4 v24 a4,4 0 0,1 -4,4 H48 c -2,0 -3,1 -4,2 l -4,4 c -1,1 -2,2 -4,2 h -12 c -2,0 -3,-1 -4,-2 l -4,-4 c -1,-1 -2,-2 -4,-2 H4 a4,4 0 0,1 -4,-4z" fill="#ffab19" stroke="#cf8b17"/><text x="8.00" y="30.3" fill="#fff">count</text><rect x="55.14" y="8.0" width="59.80" height="32" rx="4" fill="#ffab19" stroke="#cf8b17"/><text x="66.14" y="30.3" fill="#fff">up</text><path d="M93.54 21.4 h8.2 a1.1 1.1 0 0 1 .8 1.9 l-4.1 4.4 a1.1 1.1 0 0 1 -1.6 0 l-4.1 -4.4 a1.1 1.1 0 0 1 .8 -1.9z" fill="#fff"/><text x="122.94" y="30.3" fill="#fff">by</text><rect x="147.84" y="8.0" width="40.00" height="32" rx="16" fill="#fff" stroke="#cf8b17"/><text x="167.84" y="30.3" fill="#575e75" text-anchor="middle">1</text><text x="195.84" y="30.3" fill="#fff">for</text><rect x="222.51" y="8.0" width="67.80" height="32" rx="4" fill="#ffab19" stroke="#cf8b17"/><text x="233.51" y="30.3" fill="#fff">pos</text><path d="M268.90 21.4 h8.2 a1.1 1.1 0 0 1 .8 1.9 l-4.1 4.4 a1.1 1.1 0 0 1 -1.6 0 l-4.1 -4.4 a1.1 1.1 0 0 1 .8 -1.9z" fill="#fff"/><text x="298.30" y="30.3" fill="#fff">from</text><rect x="338.30" y="8.0" width="40.00" height="32" rx="16" fill="#fff" stroke="#cf8b17"/><text x="358.30" y="30.3" fill="#575e75" text-anchor="middle">0</text><text x="386.30" y="30.3" fill="#fff">to</text><rect x="407.65" y="8.0" width="48.70" height="32" rx="16" fill="#fff" stroke="#cf8b17"/><text x="432.00" y="30.3" fill="#575e75" text-anchor="middle">180</text><text x="464.34" y="30.3" fill="#fff">do</text></g>
<g transform="translate(982.89,176.86) scale(0.9215)"><path d="M0,4 A4,4 0 0,1 4,0 H12 c 2,0 3,1 4,2 l 4,4 c 1,1 2,2 4,2 h 12 c 2,0 3,-1 4,-2 l 4,-4 c 1,-1 2,-2 4,-2 H402.96 a4,4 0 0,1 4,4 v40.0 a4,4 0 0,1 -4,4 H48 c -2,0 -3,1 -4,2 l -4,4 c -1,1 -2,2 -4,2 h -12 c -2,0 -3,-1 -4,-2 l -4,-4 c -1,-1 -2,-2 -4,-2 H4 a4,4 0 0,1 -4,-4z" fill="#8e8e8e" stroke="#737373"/><text x="8.00" y="30.3" fill="#fff">comment</text><rect x="81.80" y="8.0" width="317.16" height="32" rx="16" fill="#fff" stroke="#737373"/><text x="240.38" y="30.3" fill="#575e75" text-anchor="middle">tell servo to go to position in variable 'pos'</text></g>
<g transform="translate(982.89,221.09) scale(0.9215)"><path d="M0,4 A4,4 0 0,1 4,0 H12 c 2,0 3,1 4,2 l 4,4 c 1,1 2,2 4,2 h 12 c 2,0 3,-1 4,-2 l 4,-4 c 1,-1 2,-2 4,-2 H354.38 a4,4 0 0,1 4,4 v41.0 a4,4 0 0,1 -4,4 H48 c -2,0 -3,1 -4,2 l -4,4 c -1,1 -2,2 -4,2 h -12 c -2,0 -3,-1 -4,-2 l -4,-4 c -1,-1 -2,-2 -4,-2 H4 a4,4 0 0,1 -4,-4z" fill="#4c97ff" stroke="#3373cc"/><text x="8.00" y="30.8" fill="#fff">rotate servo on pin</text><rect x="148.52" y="8.5" width="50.90" height="32" rx="4" fill="#4c97ff" stroke="#3373cc"/><text x="159.52" y="30.8" fill="#fff">2</text><path d="M178.02 21.9 h8.2 a1.1 1.1 0 0 1 .8 1.9 l-4.1 4.4 a1.1 1.1 0 0 1 -1.6 0 l-4.1 -4.4 a1.1 1.1 0 0 1 .8 -1.9z" fill="#fff"/><text x="207.42" y="30.8" fill="#fff">to</text><rect x="228.77" y="4.5" width="55.80" height="40" rx="20" fill="#d65cd6" stroke="#bd42bd"/><text x="256.66" y="30.8" fill="#fff" text-anchor="middle">pos</text><text x="292.56" y="30.8" fill="#fff">degrees</text></g>
<g transform="translate(982.89,266.22) scale(0.9215)"><path d="M0,4 A4,4 0 0,1 4,0 H12 c 2,0 3,1 4,2 l 4,4 c 1,1 2,2 4,2 h 12 c 2,0 3,-1 4,-2 l 4,-4 c 1,-1 2,-2 4,-2 H338.59 a4,4 0 0,1 4,4 v40.0 a4,4 0 0,1 -4,4 H48 c -2,0 -3,1 -4,2 l -4,4 c -1,1 -2,2 -4,2 h -12 c -2,0 -3,-1 -4,-2 l -4,-4 c -1,-1 -2,-2 -4,-2 H4 a4,4 0 0,1 -4,-4z" fill="#4c97ff" stroke="#3373cc"/><text x="8.00" y="30.3" fill="#fff">rotate servo on pin</text><rect x="148.52" y="8.0" width="50.90" height="32" rx="4" fill="#4c97ff" stroke="#3373cc"/><text x="159.52" y="30.3" fill="#fff">3</text><path d="M178.02 21.4 h8.2 a1.1 1.1 0 0 1 .8 1.9 l-4.1 4.4 a1.1 1.1 0 0 1 -1.6 0 l-4.1 -4.4 a1.1 1.1 0 0 1 .8 -1.9z" fill="#fff"/><text x="207.42" y="30.3" fill="#fff">to</text><rect x="228.77" y="8.0" width="40.00" height="32" rx="16" fill="#fff" stroke="#3373cc"/><text x="248.77" y="30.3" fill="#575e75" text-anchor="middle">90</text><text x="276.77" y="30.3" fill="#fff">degrees</text></g>
<g transform="translate(982.89,310.45) scale(0.9215)"><path d="M0,4 A4,4 0 0,1 4,0 H12 c 2,0 3,1 4,2 l 4,4 c 1,1 2,2 4,2 h 12 c 2,0 3,-1 4,-2 l 4,-4 c 1,-1 2,-2 4,-2 H338.59 a4,4 0 0,1 4,4 v40.0 a4,4 0 0,1 -4,4 H48 c -2,0 -3,1 -4,2 l -4,4 c -1,1 -2,2 -4,2 h -12 c -2,0 -3,-1 -4,-2 l -4,-4 c -1,-1 -2,-2 -4,-2 H4 a4,4 0 0,1 -4,-4z" fill="#4c97ff" stroke="#3373cc"/><text x="8.00" y="30.3" fill="#fff">rotate servo on pin</text><rect x="148.52" y="8.0" width="50.90" height="32" rx="4" fill="#4c97ff" stroke="#3373cc"/><text x="159.52" y="30.3" fill="#fff">4</text><path d="M178.02 21.4 h8.2 a1.1 1.1 0 0 1 .8 1.9 l-4.1 4.4 a1.1 1.1 0 0 1 -1.6 0 l-4.1 -4.4 a1.1 1.1 0 0 1 .8 -1.9z" fill="#fff"/><text x="207.42" y="30.3" fill="#fff">to</text><rect x="228.77" y="8.0" width="40.00" height="32" rx="16" fill="#fff" stroke="#3373cc"/><text x="248.77" y="30.3" fill="#575e75" text-anchor="middle">90</text><text x="276.77" y="30.3" fill="#fff">degrees</text></g>
<g transform="translate(982.89,354.68) scale(0.9215)"><path d="M0,4 A4,4 0 0,1 4,0 H12 c 2,0 3,1 4,2 l 4,4 c 1,1 2,2 4,2 h 12 c 2,0 3,-1 4,-2 l 4,-4 c 1,-1 2,-2 4,-2 H338.59 a4,4 0 0,1 4,4 v40.0 a4,4 0 0,1 -4,4 H48 c -2,0 -3,1 -4,2 l -4,4 c -1,1 -2,2 -4,2 h -12 c -2,0 -3,-1 -4,-2 l -4,-4 c -1,-1 -2,-2 -4,-2 H4 a4,4 0 0,1 -4,-4z" fill="#4c97ff" stroke="#3373cc"/><text x="8.00" y="30.3" fill="#fff">rotate servo on pin</text><rect x="148.52" y="8.0" width="50.90" height="32" rx="4" fill="#4c97ff" stroke="#3373cc"/><text x="159.52" y="30.3" fill="#fff">5</text><path d="M178.02 21.4 h8.2 a1.1 1.1 0 0 1 .8 1.9 l-4.1 4.4 a1.1 1.1 0 0 1 -1.6 0 l-4.1 -4.4 a1.1 1.1 0 0 1 .8 -1.9z" fill="#fff"/><text x="207.42" y="30.3" fill="#fff">to</text><rect x="228.77" y="8.0" width="40.00" height="32" rx="16" fill="#fff" stroke="#3373cc"/><text x="248.77" y="30.3" fill="#575e75" text-anchor="middle">90</text><text x="276.77" y="30.3" fill="#fff">degrees</text></g>
<g transform="translate(982.89,398.91) scale(0.9215)"><path d="M0,4 A4,4 0 0,1 4,0 H12 c 2,0 3,1 4,2 l 4,4 c 1,1 2,2 4,2 h 12 c 2,0 3,-1 4,-2 l 4,-4 c 1,-1 2,-2 4,-2 H338.59 a4,4 0 0,1 4,4 v40.0 a4,4 0 0,1 -4,4 H48 c -2,0 -3,1 -4,2 l -4,4 c -1,1 -2,2 -4,2 h -12 c -2,0 -3,-1 -4,-2 l -4,-4 c -1,-1 -2,-2 -4,-2 H4 a4,4 0 0,1 -4,-4z" fill="#4c97ff" stroke="#3373cc"/><text x="8.00" y="30.3" fill="#fff">rotate servo on pin</text><rect x="148.52" y="8.0" width="50.90" height="32" rx="4" fill="#4c97ff" stroke="#3373cc"/><text x="159.52" y="30.3" fill="#fff">6</text><path d="M178.02 21.4 h8.2 a1.1 1.1 0 0 1 .8 1.9 l-4.1 4.4 a1.1 1.1 0 0 1 -1.6 0 l-4.1 -4.4 a1.1 1.1 0 0 1 .8 -1.9z" fill="#fff"/><text x="207.42" y="30.3" fill="#fff">to</text><rect x="228.77" y="8.0" width="40.00" height="32" rx="16" fill="#fff" stroke="#3373cc"/><text x="248.77" y="30.3" fill="#575e75" text-anchor="middle">90</text><text x="276.77" y="30.3" fill="#fff">degrees</text></g>
<g transform="translate(982.89,443.14) scale(0.9215)"><path d="M0,4 A4,4 0 0,1 4,0 H12 c 2,0 3,1 4,2 l 4,4 c 1,1 2,2 4,2 h 12 c 2,0 3,-1 4,-2 l 4,-4 c 1,-1 2,-2 4,-2 H338.59 a4,4 0 0,1 4,4 v40.0 a4,4 0 0,1 -4,4 H48 c -2,0 -3,1 -4,2 l -4,4 c -1,1 -2,2 -4,2 h -12 c -2,0 -3,-1 -4,-2 l -4,-4 c -1,-1 -2,-2 -4,-2 H4 a4,4 0 0,1 -4,-4z" fill="#4c97ff" stroke="#3373cc"/><text x="8.00" y="30.3" fill="#fff">rotate servo on pin</text><rect x="148.52" y="8.0" width="50.90" height="32" rx="4" fill="#4c97ff" stroke="#3373cc"/><text x="159.52" y="30.3" fill="#fff">7</text><path d="M178.02 21.4 h8.2 a1.1 1.1 0 0 1 .8 1.9 l-4.1 4.4 a1.1 1.1 0 0 1 -1.6 0 l-4.1 -4.4 a1.1 1.1 0 0 1 .8 -1.9z" fill="#fff"/><text x="207.42" y="30.3" fill="#fff">to</text><rect x="228.77" y="8.0" width="40.00" height="32" rx="16" fill="#fff" stroke="#3373cc"/><text x="248.77" y="30.3" fill="#575e75" text-anchor="middle">90</text><text x="276.77" y="30.3" fill="#fff">degrees</text></g>
<g transform="translate(982.89,487.37) scale(0.9215)"><path d="M0,4 A4,4 0 0,1 4,0 H12 c 2,0 3,1 4,2 l 4,4 c 1,1 2,2 4,2 h 12 c 2,0 3,-1 4,-2 l 4,-4 c 1,-1 2,-2 4,-2 H229.09 a4,4 0 0,1 4,4 v40.0 a4,4 0 0,1 -4,4 H48 c -2,0 -3,1 -4,2 l -4,4 c -1,1 -2,2 -4,2 h -12 c -2,0 -3,-1 -4,-2 l -4,-4 c -1,-1 -2,-2 -4,-2 H4 a4,4 0 0,1 -4,-4z" fill="#ffab19" stroke="#cf8b17"/><text x="8.00" y="30.3" fill="#fff">wait</text><rect x="47.95" y="8.0" width="40.00" height="32" rx="16" fill="#fff" stroke="#cf8b17"/><text x="67.95" y="30.3" fill="#575e75" text-anchor="middle">15</text><rect x="95.95" y="8.0" width="129.14" height="32" rx="4" fill="#ffab19" stroke="#cf8b17"/><text x="106.95" y="30.3" fill="#fff">milliseconds</text><path d="M203.69 21.4 h8.2 a1.1 1.1 0 0 1 .8 1.9 l-4.1 4.4 a1.1 1.1 0 0 1 -1.6 0 l-4.1 -4.4 a1.1 1.1 0 0 1 .8 -1.9z" fill="#fff"/></g>
<g transform="translate(982.89,531.60) scale(0.9215)"><path d="M0,4 A4,4 0 0,1 4,0 H12 c 2,0 3,1 4,2 l 4,4 c 1,1 2,2 4,2 h 12 c 2,0 3,-1 4,-2 l 4,-4 c 1,-1 2,-2 4,-2 H399.49 a4,4 0 0,1 4,4 v40.0 a4,4 0 0,1 -4,4 H48 c -2,0 -3,1 -4,2 l -4,4 c -1,1 -2,2 -4,2 h -12 c -2,0 -3,-1 -4,-2 l -4,-4 c -1,-1 -2,-2 -4,-2 H4 a4,4 0 0,1 -4,-4z" fill="#8e8e8e" stroke="#737373"/><text x="8.00" y="30.3" fill="#fff">comment</text><rect x="81.80" y="8.0" width="313.70" height="32" rx="16" fill="#fff" stroke="#737373"/><text x="238.64" y="30.3" fill="#575e75" text-anchor="middle">wait 15 ms for servo to reach the position</text></g>
<g transform="translate(968.14,605.33) scale(0.9215)"><path d="M0,4 A4,4 0 0,1 4,0 H12 c 2,0 3,1 4,2 l 4,4 c 1,1 2,2 4,2 h 12 c 2,0 3,-1 4,-2 l 4,-4 c 1,-1 2,-2 4,-2 H506.59 a4,4 0 0,1 4,4 v40 a4,4 0 0,1 -4,4 H64 c -2,0 -3,1 -4,2 l -4,4 c -1,1 -2,2 -4,2 h -12 c -2,0 -3,-1 -4,-2 l -4,-4 c -1,-1 -2,-2 -4,-2 h-8 a4,4 0 0,0 -4,4 v184.00 a4,4 0 0,0 4,4 h8 c 2,0 3,1 4,2 l 4,4 c 1,1 2,2 4,2 h 12 c 2,0 3,-1 4,-2 l 4,-4 c 1,-1 2,-2 4,-2 H506.59 a4,4 0 0,1 4,4 v24 a4,4 0 0,1 -4,4 H48 c -2,0 -3,1 -4,2 l -4,4 c -1,1 -2,2 -4,2 h -12 c -2,0 -3,-1 -4,-2 l -4,-4 c -1,-1 -2,-2 -4,-2 H4 a4,4 0 0,1 -4,-4z" fill="#ffab19" stroke="#cf8b17"/><text x="8.00" y="30.3" fill="#fff">count</text><rect x="55.14" y="8.0" width="80.25" height="32" rx="4" fill="#ffab19" stroke="#cf8b17"/><text x="66.14" y="30.3" fill="#fff">down</text><path d="M113.99 21.4 h8.2 a1.1 1.1 0 0 1 .8 1.9 l-4.1 4.4 a1.1 1.1 0 0 1 -1.6 0 l-4.1 -4.4 a1.1 1.1 0 0 1 .8 -1.9z" fill="#fff"/><text x="143.39" y="30.3" fill="#fff">by</text><rect x="168.29" y="8.0" width="40.00" height="32" rx="16" fill="#fff" stroke="#cf8b17"/><text x="188.29" y="30.3" fill="#575e75" text-anchor="middle">1</text><text x="216.29" y="30.3" fill="#fff">for</text><rect x="242.96" y="8.0" width="67.80" height="32" rx="4" fill="#ffab19" stroke="#cf8b17"/><text x="253.96" y="30.3" fill="#fff">pos</text><path d="M289.36 21.4 h8.2 a1.1 1.1 0 0 1 .8 1.9 l-4.1 4.4 a1.1 1.1 0 0 1 -1.6 0 l-4.1 -4.4 a1.1 1.1 0 0 1 .8 -1.9z" fill="#fff"/><text x="318.76" y="30.3" fill="#fff">from</text><rect x="358.76" y="8.0" width="48.70" height="32" rx="16" fill="#fff" stroke="#cf8b17"/><text x="383.11" y="30.3" fill="#575e75" text-anchor="middle">180</text><text x="415.45" y="30.3" fill="#fff">to</text><rect x="436.80" y="8.0" width="40.00" height="32" rx="16" fill="#fff" stroke="#cf8b17"/><text x="456.80" y="30.3" fill="#575e75" text-anchor="middle">0</text><text x="484.80" y="30.3" fill="#fff">do</text></g>
<g transform="translate(982.89,649.56) scale(0.9215)"><path d="M0,4 A4,4 0 0,1 4,0 H12 c 2,0 3,1 4,2 l 4,4 c 1,1 2,2 4,2 h 12 c 2,0 3,-1 4,-2 l 4,-4 c 1,-1 2,-2 4,-2 H402.96 a4,4 0 0,1 4,4 v40.0 a4,4 0 0,1 -4,4 H48 c -2,0 -3,1 -4,2 l -4,4 c -1,1 -2,2 -4,2 h -12 c -2,0 -3,-1 -4,-2 l -4,-4 c -1,-1 -2,-2 -4,-2 H4 a4,4 0 0,1 -4,-4z" fill="#8e8e8e" stroke="#737373"/><text x="8.00" y="30.3" fill="#fff">comment</text><rect x="81.80" y="8.0" width="317.16" height="32" rx="16" fill="#fff" stroke="#737373"/><text x="240.38" y="30.3" fill="#575e75" text-anchor="middle">tell servo to go to position in variable 'pos'</text></g>
<g transform="translate(982.89,693.79) scale(0.9215)"><path d="M0,4 A4,4 0 0,1 4,0 H12 c 2,0 3,1 4,2 l 4,4 c 1,1 2,2 4,2 h 12 c 2,0 3,-1 4,-2 l 4,-4 c 1,-1 2,-2 4,-2 H354.38 a4,4 0 0,1 4,4 v41.0 a4,4 0 0,1 -4,4 H48 c -2,0 -3,1 -4,2 l -4,4 c -1,1 -2,2 -4,2 h -12 c -2,0 -3,-1 -4,-2 l -4,-4 c -1,-1 -2,-2 -4,-2 H4 a4,4 0 0,1 -4,-4z" fill="#4c97ff" stroke="#3373cc"/><text x="8.00" y="30.8" fill="#fff">rotate servo on pin</text><rect x="148.52" y="8.5" width="50.90" height="32" rx="4" fill="#4c97ff" stroke="#3373cc"/><text x="159.52" y="30.8" fill="#fff">2</text><path d="M178.02 21.9 h8.2 a1.1 1.1 0 0 1 .8 1.9 l-4.1 4.4 a1.1 1.1 0 0 1 -1.6 0 l-4.1 -4.4 a1.1 1.1 0 0 1 .8 -1.9z" fill="#fff"/><text x="207.42" y="30.8" fill="#fff">to</text><rect x="228.77" y="4.5" width="55.80" height="40" rx="20" fill="#d65cd6" stroke="#bd42bd"/><text x="256.66" y="30.8" fill="#fff" text-anchor="middle">pos</text><text x="292.56" y="30.8" fill="#fff">degrees</text></g>
<g transform="translate(982.89,738.92) scale(0.9215)"><path d="M0,4 A4,4 0 0,1 4,0 H12 c 2,0 3,1 4,2 l 4,4 c 1,1 2,2 4,2 h 12 c 2,0 3,-1 4,-2 l 4,-4 c 1,-1 2,-2 4,-2 H399.49 a4,4 0 0,1 4,4 v40.0 a4,4 0 0,1 -4,4 H48 c -2,0 -3,1 -4,2 l -4,4 c -1,1 -2,2 -4,2 h -12 c -2,0 -3,-1 -4,-2 l -4,-4 c -1,-1 -2,-2 -4,-2 H4 a4,4 0 0,1 -4,-4z" fill="#8e8e8e" stroke="#737373"/><text x="8.00" y="30.3" fill="#fff">comment</text><rect x="81.80" y="8.0" width="313.70" height="32" rx="16" fill="#fff" stroke="#737373"/><text x="238.64" y="30.3" fill="#575e75" text-anchor="middle">wait 15 ms for servo to reach the position</text></g>
<g transform="translate(982.89,783.15) scale(0.9215)"><path d="M0,4 A4,4 0 0,1 4,0 H12 c 2,0 3,1 4,2 l 4,4 c 1,1 2,2 4,2 h 12 c 2,0 3,-1 4,-2 l 4,-4 c 1,-1 2,-2 4,-2 H229.09 a4,4 0 0,1 4,4 v40.0 a4,4 0 0,1 -4,4 H48 c -2,0 -3,1 -4,2 l -4,4 c -1,1 -2,2 -4,2 h -12 c -2,0 -3,-1 -4,-2 l -4,-4 c -1,-1 -2,-2 -4,-2 H4 a4,4 0 0,1 -4,-4z" fill="#ffab19" stroke="#cf8b17"/><text x="8.00" y="30.3" fill="#fff">wait</text><rect x="47.95" y="8.0" width="40.00" height="32" rx="16" fill="#fff" stroke="#cf8b17"/><text x="67.95" y="30.3" fill="#575e75" text-anchor="middle">15</text><rect x="95.95" y="8.0" width="129.14" height="32" rx="4" fill="#ffab19" stroke="#cf8b17"/><text x="106.95" y="30.3" fill="#fff">milliseconds</text><path d="M203.69 21.4 h8.2 a1.1 1.1 0 0 1 .8 1.9 l-4.1 4.4 a1.1 1.1 0 0 1 -1.6 0 l-4.1 -4.4 a1.1 1.1 0 0 1 .8 -1.9z" fill="#fff"/></g>
<rect x="1342.5" y="290" width="5" height="297" rx="2.5" fill="#cecece"/>
<rect x="1013" y="783.5" width="125" height="6" rx="3" fill="#cecece"/>
<circle cx="1305" cy="558" r="18" fill="#fff" fill-opacity=".97" stroke="#000" stroke-opacity=".1" stroke-width="1.6"/>
<circle cx="1304.6" cy="557.6" r="7.6" fill="none" stroke="#747a90" stroke-width="1.7"/>
<path d="M1310.2 563.2 l3.6 3.6" stroke="#747a90" stroke-width="1.9" stroke-linecap="round"/>
<path d="M1301.4 557.6 h6.4" stroke="#747a90" stroke-width="1.5"/>
<path d="M1304.6 554.4 v6.4" stroke="#747a90" stroke-width="1.5"/>
<circle cx="1305" cy="607.5" r="18" fill="#fff" fill-opacity=".97" stroke="#000" stroke-opacity=".1" stroke-width="1.6"/>
<circle cx="1304.6" cy="607.1" r="7.6" fill="none" stroke="#747a90" stroke-width="1.7"/>
<path d="M1310.2 612.7 l3.6 3.6" stroke="#747a90" stroke-width="1.9" stroke-linecap="round"/>
<path d="M1301.4 607.1 h6.4" stroke="#747a90" stroke-width="1.5"/>
<circle cx="1305" cy="657" r="18" fill="#fff" fill-opacity=".97" stroke="#000" stroke-opacity=".1" stroke-width="1.6"/>
<path d="M1299 653.5 h11.5 M1299 660 h11.5" stroke="#747a90" stroke-width="2.2"/>
</svg>
  </div>
  <div id="editor">
  <div id="gut"></div>
<div class="ln" style="top:-5px"><s>34</s><pre></pre></div>
<div class="ln" style="top:13px"><s>35</s><pre>  servo_3.attach(<i>3</i>);</pre></div>
<div class="ln" style="top:31px"><s>36</s><pre></pre></div>
<div class="ln" style="top:49px"><s>37</s><pre>  servo_4.attach(<i>4</i>);</pre></div>
<div class="ln" style="top:67px"><s>38</s><pre></pre></div>
<div class="ln" style="top:85px"><s>39</s><pre>  servo_5.attach(<i>5</i>);</pre></div>
<div class="ln" style="top:103px"><s>40</s><pre></pre></div>
<div class="ln" style="top:121px"><s>41</s><pre>  servo_6.attach(<i>6</i>);</pre></div>
<div class="ln" style="top:139px"><s>42</s><pre></pre></div>
<div class="ln" style="top:157px"><s>43</s><pre>  servo_7.attach(<i>7</i>);</pre></div>
<div class="ln" style="top:175px"><s>44</s><pre></pre></div>
<div class="ln" style="top:193px"><s>45</s><pre>}</pre></div>
<div class="ln" style="top:211px"><s>46</s><pre></pre></div>
<div class="ln" style="top:229px"><s>47</s><pre><b>void</b> loop()</pre></div>
<div class="ln" style="top:247px"><s>48</s><pre>{</pre></div>
<div class="ln" style="top:265px"><s>49</s><pre>  <b>if</b> (<i>0.01723</i> * readUltrasonicDistance(<i>8</i>, <i>9</i>) &lt; <i>1</i>) {</pre></div>
<div class="ln" style="top:283px"><s>50</s><pre>    <u>// sweep the servo from 0 to 180 degrees in steps</u></pre></div>
<div class="ln" style="top:301px"><s>51</s><pre>    <u>// of 1 degrees</u></pre></div>
<div class="ln" style="top:319px"><s>52</s><pre>    <b>for</b> (pos = <i>0</i>; pos &lt;= <i>180</i>; pos += <i>1</i>) {</pre></div>
<div class="ln" style="top:337px"><s>53</s><pre>      <u>// tell servo to go to position in variable 'pos'</u></pre></div>
<div class="ln" style="top:355px"><s>54</s><pre>      servo_2.write(pos);</pre></div>
<div class="ln" style="top:373px"><s>55</s><pre>      servo_3.write(<i>90</i>);</pre></div>
<div class="ln" style="top:391px"><s>56</s><pre>      servo_4.write(<i>90</i>);</pre></div>
<div class="ln" style="top:409px"><s>57</s><pre>      servo_5.write(<i>90</i>);</pre></div>
<div class="ln" style="top:427px"><s>58</s><pre>      servo_6.write(<i>90</i>);</pre></div>
<div class="ln" style="top:445px"><s>59</s><pre>      servo_7.write(<i>90</i>);</pre></div>
<div class="ln" style="top:463px"><s>60</s><pre>      delay(<i>15</i>); <u>// Wait for 15 millisecond(s)</u></pre></div>
<div class="ln" style="top:481px"><s>61</s><pre>      <u>// wait 15 ms for servo to reach the position</u></pre></div>
<div class="ln" style="top:499px"><s>62</s><pre>    }</pre></div>
<div class="ln" style="top:517px"><s>63</s><pre>    <b>for</b> (pos = <i>180</i>; pos &gt;= <i>0</i>; pos -= <i>1</i>) {</pre></div>
<div class="ln" style="top:535px"><s>64</s><pre>      <u>// tell servo to go to position in variable 'pos'</u></pre></div>
<div class="ln" style="top:553px"><s>65</s><pre>      servo_2.write(pos);</pre></div>
<div class="ln" style="top:571px"><s>66</s><pre>      <u>// wait 15 ms for servo to reach the position</u></pre></div>
<div class="ln" style="top:589px"><s>67</s><pre>      delay(<i>15</i>); <u>// Wait for 15 millisecond(s)</u></pre></div>
<div class="ln" style="top:607px"><s>68</s><pre>    }</pre></div>
<div class="ln" style="top:625px"><s>69</s><pre>  }</pre></div>
<div class="ln" style="top:643px"><s>70</s><pre>}</pre></div>
<div class="abs" style="left:545px;top:0;width:19px;height:664px;background:#f1f1f3"></div>
<div class="abs" style="left:545px;top:317px;width:17px;height:325px;background:#c1c1c1"></div>
<svg class="abs" style="left:545px;top:0" width="19" height="682" viewBox="1896 109 19 682"><path d="M1900.200 123.500h8.400l-4.200-5z" fill="#000"/><path d="M1900.200 758h8.400l-4.200 5z" fill="#a3a3a3"/></svg>
<div class="abs" style="left:44px;top:664px;width:501px;height:18px;background:#f1f1f3"></div>
<div class="abs" style="left:64px;top:665px;width:300px;height:17px;background:#c1c1c1"></div>
<svg class="abs" style="left:44px;top:664px" width="501" height="18" viewBox="1395 773 501 18"><path d="M1407 778.300v8.400l-5-4.200z" fill="#a3a3a3"/><path d="M1881.200 778.200v8.800l5-4.400z" fill="#505050"/></svg>
<div class="abs" style="left:543px;top:663px;width:21px;height:20px;background:#fff"></div>

  </div>
  <div id="serial"><svg class="abs" style="left:10px;top:6px" width="27" height="20" viewBox="678 799 27 20"><rect x="679" y="801" width="23.800" height="16.300" rx="1" fill="#fff" stroke="#000" stroke-width="1.600"/><rect x="678.300" y="800.200" width="25.200" height="3.500" rx="1" fill="#000"/><circle cx="681.800" cy="802" r=".7" fill="#fff"/><circle cx="684.800" cy="802" r=".7" fill="#fff"/><circle cx="687.800" cy="802" r=".7" fill="#fff"/><path d="M694.700 803.500V817" stroke="#555" stroke-width="1.400"/><path d="M695.500 812.400h7M696.500 815.300h5" stroke="#555" stroke-width="1"/></svg><svg class="abs" style="left:1224px;top:9px" width="14" height="10"><path d="M2 7.500h9l-4.500-5z" fill="#000"/></svg><span style="position:absolute;left:45px;top:0">Serial Monitor</span></div>
</div>
</body>
</html>
